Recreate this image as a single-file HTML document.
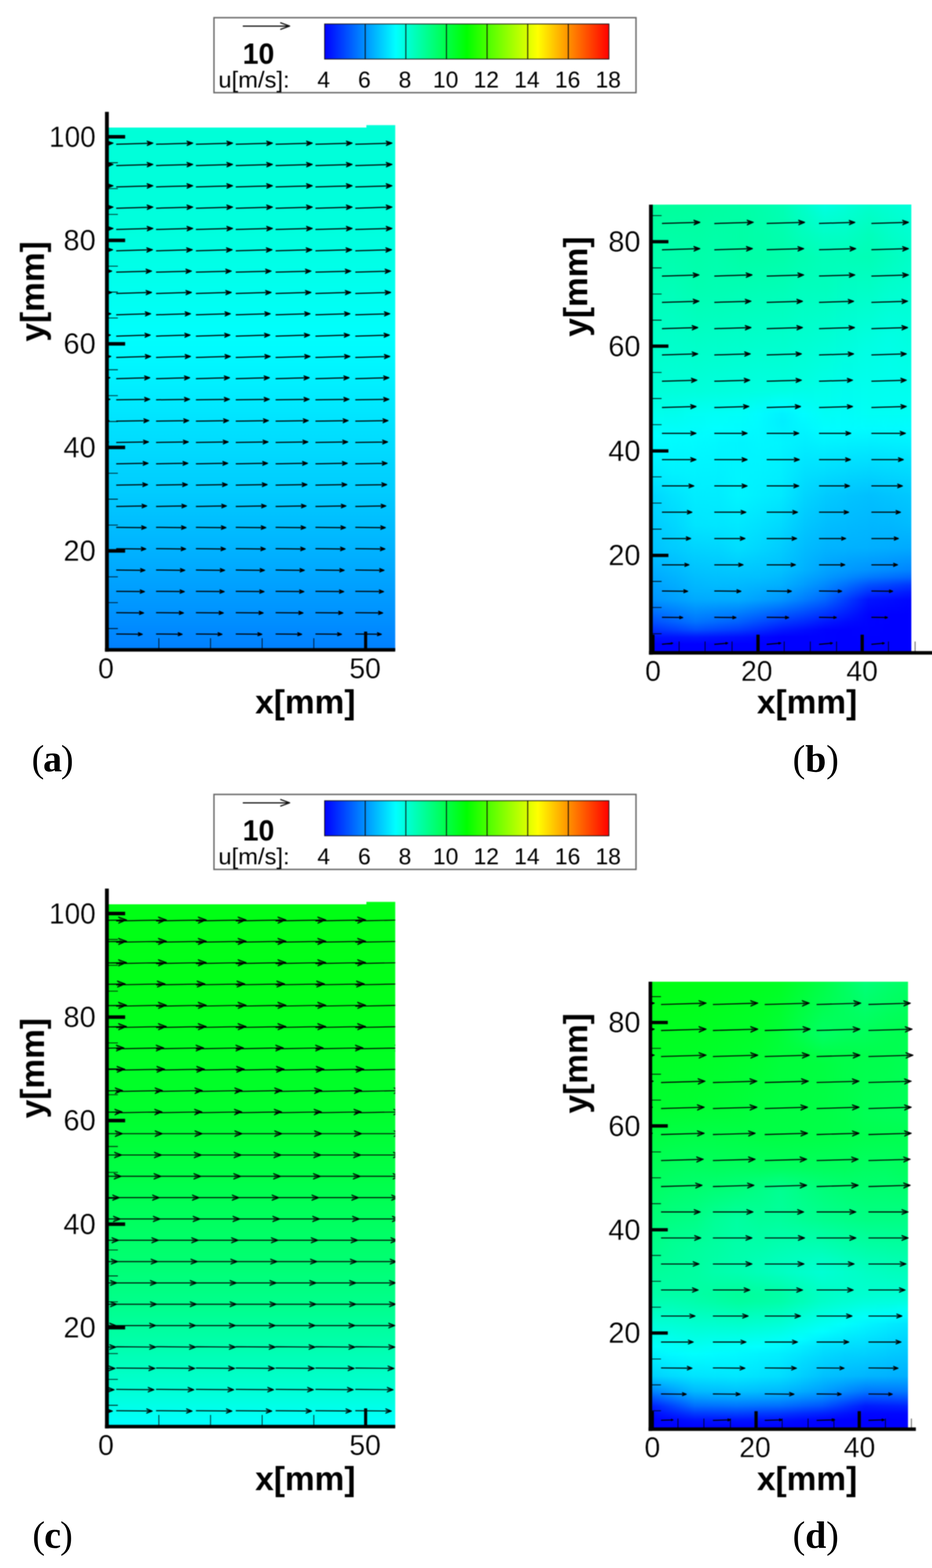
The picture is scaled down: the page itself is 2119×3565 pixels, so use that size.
<!DOCTYPE html>
<html lang="en"><head><meta charset="utf-8"><title>Velocity fields</title>
<style>html,body{margin:0;padding:0;background:#fff}body{width:2119px;height:3565px}svg{display:block}text{fill:#000}</style>
</head><body>
<svg width="2119" height="3565" viewBox="0 0 2119 3565" role="img" aria-label="Velocity vector fields with contours of u">
<defs>
<filter id="gsoft" filterUnits="userSpaceOnUse" x="-20" y="-20" width="2159" height="3605" color-interpolation-filters="sRGB"><feGaussianBlur stdDeviation="0.8"/></filter>
<filter id="soft" x="-2%" y="-2%" width="104%" height="104%" color-interpolation-filters="sRGB"><feGaussianBlur stdDeviation="0.55"/></filter>
<linearGradient id="cb0" x1="0" y1="0" x2="1" y2="0"><stop offset="0" stop-color="#0000ff"/><stop offset="0.25" stop-color="#00ffff"/><stop offset="0.5" stop-color="#00ff00"/><stop offset="0.75" stop-color="#ffff00"/><stop offset="1" stop-color="#ff0000"/></linearGradient>
<linearGradient id="cb1" x1="0" y1="0" x2="1" y2="0"><stop offset="0" stop-color="#0000ff"/><stop offset="0.25" stop-color="#00ffff"/><stop offset="0.5" stop-color="#00ff00"/><stop offset="0.75" stop-color="#ffff00"/><stop offset="1" stop-color="#ff0000"/></linearGradient>
<linearGradient id="gt0" gradientUnits="userSpaceOnUse" x1="0" y1="290" x2="0" y2="1473.5"><stop offset="0" stop-color="#00ffd8"/><stop offset="0.025" stop-color="#00ffd9"/><stop offset="0.05" stop-color="#00ffda"/><stop offset="0.075" stop-color="#00ffdb"/><stop offset="0.1" stop-color="#00ffdb"/><stop offset="0.125" stop-color="#00ffdc"/><stop offset="0.15" stop-color="#00ffdd"/><stop offset="0.175" stop-color="#00ffdd"/><stop offset="0.2" stop-color="#00ffde"/><stop offset="0.225" stop-color="#00ffe2"/><stop offset="0.25" stop-color="#00ffe6"/><stop offset="0.275" stop-color="#00ffea"/><stop offset="0.3" stop-color="#00ffee"/><stop offset="0.325" stop-color="#00fff2"/><stop offset="0.35" stop-color="#00fff6"/><stop offset="0.375" stop-color="#00fffa"/><stop offset="0.4" stop-color="#00fffe"/><stop offset="0.425" stop-color="#00fcff"/><stop offset="0.45" stop-color="#00f7ff"/><stop offset="0.475" stop-color="#00f3ff"/><stop offset="0.5" stop-color="#00eeff"/><stop offset="0.525" stop-color="#00eaff"/><stop offset="0.55" stop-color="#00e6ff"/><stop offset="0.575" stop-color="#00e1ff"/><stop offset="0.6" stop-color="#00ddff"/><stop offset="0.625" stop-color="#00d9ff"/><stop offset="0.65" stop-color="#00d4ff"/><stop offset="0.675" stop-color="#00d0ff"/><stop offset="0.7" stop-color="#00ccff"/><stop offset="0.725" stop-color="#00c6ff"/><stop offset="0.75" stop-color="#00c0ff"/><stop offset="0.775" stop-color="#00bbff"/><stop offset="0.8" stop-color="#00b5ff"/><stop offset="0.825" stop-color="#00afff"/><stop offset="0.85" stop-color="#00a9ff"/><stop offset="0.875" stop-color="#00a2ff"/><stop offset="0.9" stop-color="#009bff"/><stop offset="0.925" stop-color="#0095ff"/><stop offset="0.95" stop-color="#008eff"/><stop offset="0.975" stop-color="#0087ff"/><stop offset="1" stop-color="#0080ff"/></linearGradient>
<clipPath id="clipt0"><rect x="246.4" y="280" width="652.2" height="1201.5"/></clipPath>
<linearGradient id="gt1" gradientUnits="userSpaceOnUse" x1="0" y1="2056" x2="0" y2="3239.5"><stop offset="0" stop-color="#00ff14"/><stop offset="0.025" stop-color="#00ff15"/><stop offset="0.05" stop-color="#00ff15"/><stop offset="0.075" stop-color="#00ff16"/><stop offset="0.1" stop-color="#00ff17"/><stop offset="0.125" stop-color="#00ff17"/><stop offset="0.15" stop-color="#00ff18"/><stop offset="0.175" stop-color="#00ff19"/><stop offset="0.2" stop-color="#00ff1a"/><stop offset="0.225" stop-color="#00ff1c"/><stop offset="0.25" stop-color="#00ff1f"/><stop offset="0.275" stop-color="#00ff21"/><stop offset="0.3" stop-color="#00ff23"/><stop offset="0.325" stop-color="#00ff26"/><stop offset="0.35" stop-color="#00ff28"/><stop offset="0.375" stop-color="#00ff2b"/><stop offset="0.4" stop-color="#00ff2d"/><stop offset="0.425" stop-color="#00ff32"/><stop offset="0.45" stop-color="#00ff37"/><stop offset="0.475" stop-color="#00ff3d"/><stop offset="0.5" stop-color="#00ff42"/><stop offset="0.525" stop-color="#00ff47"/><stop offset="0.55" stop-color="#00ff4e"/><stop offset="0.575" stop-color="#00ff55"/><stop offset="0.6" stop-color="#00ff5c"/><stop offset="0.625" stop-color="#00ff63"/><stop offset="0.65" stop-color="#00ff69"/><stop offset="0.675" stop-color="#00ff6f"/><stop offset="0.7" stop-color="#00ff76"/><stop offset="0.725" stop-color="#00ff7e"/><stop offset="0.75" stop-color="#00ff86"/><stop offset="0.775" stop-color="#00ff8e"/><stop offset="0.8" stop-color="#00ff99"/><stop offset="0.825" stop-color="#00ffa3"/><stop offset="0.85" stop-color="#00ffae"/><stop offset="0.875" stop-color="#00ffba"/><stop offset="0.9" stop-color="#00ffc5"/><stop offset="0.925" stop-color="#00ffd1"/><stop offset="0.95" stop-color="#00ffdf"/><stop offset="0.975" stop-color="#00ffef"/><stop offset="1" stop-color="#00ffff"/></linearGradient>
<clipPath id="clipt1"><rect x="246.4" y="2046" width="652.2" height="1201.5"/></clipPath>
<linearGradient id="f0_0" gradientUnits="userSpaceOnUse" x1="0" y1="465.3" x2="0" y2="1482.3"><stop offset="0" stop-color="#00ff9b"/><stop offset="0.417" stop-color="#00ffd9"/><stop offset="0.517" stop-color="#00ffff"/><stop offset="0.6" stop-color="#00ecff"/><stop offset="0.65" stop-color="#00d7ff"/><stop offset="0.767" stop-color="#00c4ff"/><stop offset="0.883" stop-color="#0095ff"/><stop offset="0.933" stop-color="#0050ff"/><stop offset="0.95" stop-color="#0033ff"/><stop offset="0.967" stop-color="#0010ff"/><stop offset="0.983" stop-color="#0000ff"/><stop offset="1" stop-color="#0000ff"/></linearGradient>
<linearGradient id="f0_1" gradientUnits="userSpaceOnUse" x1="0" y1="465.3" x2="0" y2="1482.3"><stop offset="0" stop-color="#00ff9c"/><stop offset="0.417" stop-color="#00ffdb"/><stop offset="0.517" stop-color="#00feff"/><stop offset="0.6" stop-color="#00f2ff"/><stop offset="0.65" stop-color="#00e3ff"/><stop offset="0.767" stop-color="#00ccff"/><stop offset="0.883" stop-color="#009fff"/><stop offset="0.933" stop-color="#0062ff"/><stop offset="0.95" stop-color="#0042ff"/><stop offset="0.967" stop-color="#0013ff"/><stop offset="0.983" stop-color="#0000ff"/><stop offset="1" stop-color="#0000ff"/></linearGradient>
<linearGradient id="m0_1g" gradientUnits="userSpaceOnUse" x1="1483.8" y1="0" x2="1532.82" y2="0"><stop offset="0" stop-color="#fff" stop-opacity="0"/><stop offset="1" stop-color="#fff" stop-opacity="1"/></linearGradient><mask id="m0_1" maskUnits="userSpaceOnUse" x="1483.8" y="465.3" width="588.2" height="1017"><rect x="1483.8" y="465.3" width="588.2" height="1017" fill="url(#m0_1g)"/></mask>
<linearGradient id="f0_2" gradientUnits="userSpaceOnUse" x1="0" y1="465.3" x2="0" y2="1482.3"><stop offset="0" stop-color="#00ff9e"/><stop offset="0.183" stop-color="#00ffb1"/><stop offset="0.417" stop-color="#00ffdc"/><stop offset="0.467" stop-color="#00fff4"/><stop offset="0.517" stop-color="#00fdff"/><stop offset="0.717" stop-color="#00e5ff"/><stop offset="0.867" stop-color="#00b2ff"/><stop offset="0.883" stop-color="#00aaff"/><stop offset="0.933" stop-color="#0074ff"/><stop offset="0.95" stop-color="#0052ff"/><stop offset="0.967" stop-color="#0017ff"/><stop offset="0.983" stop-color="#0000ff"/><stop offset="1" stop-color="#0000ff"/></linearGradient>
<linearGradient id="m0_2g" gradientUnits="userSpaceOnUse" x1="1532.82" y1="0" x2="1581.83" y2="0"><stop offset="0" stop-color="#fff" stop-opacity="0"/><stop offset="1" stop-color="#fff" stop-opacity="1"/></linearGradient><mask id="m0_2" maskUnits="userSpaceOnUse" x="1532.82" y="465.3" width="539.18" height="1017"><rect x="1532.82" y="465.3" width="539.18" height="1017" fill="url(#m0_2g)"/></mask>
<linearGradient id="f0_3" gradientUnits="userSpaceOnUse" x1="0" y1="465.3" x2="0" y2="1482.3"><stop offset="0" stop-color="#00ffa1"/><stop offset="0.2" stop-color="#00ffb5"/><stop offset="0.417" stop-color="#00ffde"/><stop offset="0.467" stop-color="#00fff6"/><stop offset="0.5" stop-color="#00ffff"/><stop offset="0.533" stop-color="#00f8ff"/><stop offset="0.717" stop-color="#00e6ff"/><stop offset="0.85" stop-color="#00bbff"/><stop offset="0.883" stop-color="#00abff"/><stop offset="0.933" stop-color="#006aff"/><stop offset="0.95" stop-color="#0048ff"/><stop offset="0.967" stop-color="#0013ff"/><stop offset="0.983" stop-color="#0000ff"/><stop offset="1" stop-color="#0000ff"/></linearGradient>
<linearGradient id="m0_3g" gradientUnits="userSpaceOnUse" x1="1581.83" y1="0" x2="1630.85" y2="0"><stop offset="0" stop-color="#fff" stop-opacity="0"/><stop offset="1" stop-color="#fff" stop-opacity="1"/></linearGradient><mask id="m0_3" maskUnits="userSpaceOnUse" x="1581.83" y="465.3" width="490.17" height="1017"><rect x="1581.83" y="465.3" width="490.17" height="1017" fill="url(#m0_3g)"/></mask>
<linearGradient id="f0_4" gradientUnits="userSpaceOnUse" x1="0" y1="465.3" x2="0" y2="1482.3"><stop offset="0" stop-color="#00ffa5"/><stop offset="0.117" stop-color="#00ffa7"/><stop offset="0.417" stop-color="#00ffe0"/><stop offset="0.467" stop-color="#00fff8"/><stop offset="0.5" stop-color="#00fdff"/><stop offset="0.533" stop-color="#00f5ff"/><stop offset="0.65" stop-color="#00f5ff"/><stop offset="0.767" stop-color="#00deff"/><stop offset="0.883" stop-color="#00abff"/><stop offset="0.933" stop-color="#0060ff"/><stop offset="0.95" stop-color="#003eff"/><stop offset="0.967" stop-color="#000fff"/><stop offset="0.983" stop-color="#0000ff"/><stop offset="1" stop-color="#0000ff"/></linearGradient>
<linearGradient id="m0_4g" gradientUnits="userSpaceOnUse" x1="1630.85" y1="0" x2="1679.87" y2="0"><stop offset="0" stop-color="#fff" stop-opacity="0"/><stop offset="1" stop-color="#fff" stop-opacity="1"/></linearGradient><mask id="m0_4" maskUnits="userSpaceOnUse" x="1630.85" y="465.3" width="441.15" height="1017"><rect x="1630.85" y="465.3" width="441.15" height="1017" fill="url(#m0_4g)"/></mask>
<linearGradient id="f0_5" gradientUnits="userSpaceOnUse" x1="0" y1="465.3" x2="0" y2="1482.3"><stop offset="0" stop-color="#00ffac"/><stop offset="0.117" stop-color="#00ffa8"/><stop offset="0.417" stop-color="#00ffe2"/><stop offset="0.467" stop-color="#00fcff"/><stop offset="0.65" stop-color="#00efff"/><stop offset="0.767" stop-color="#00d6ff"/><stop offset="0.833" stop-color="#00bfff"/><stop offset="0.883" stop-color="#00a0ff"/><stop offset="0.933" stop-color="#004cff"/><stop offset="0.95" stop-color="#002cff"/><stop offset="0.967" stop-color="#0007ff"/><stop offset="0.983" stop-color="#0000ff"/><stop offset="1" stop-color="#0000ff"/></linearGradient>
<linearGradient id="m0_5g" gradientUnits="userSpaceOnUse" x1="1679.87" y1="0" x2="1728.88" y2="0"><stop offset="0" stop-color="#fff" stop-opacity="0"/><stop offset="1" stop-color="#fff" stop-opacity="1"/></linearGradient><mask id="m0_5" maskUnits="userSpaceOnUse" x="1679.87" y="465.3" width="392.13" height="1017"><rect x="1679.87" y="465.3" width="392.13" height="1017" fill="url(#m0_5g)"/></mask>
<linearGradient id="f0_6" gradientUnits="userSpaceOnUse" x1="0" y1="465.3" x2="0" y2="1482.3"><stop offset="0" stop-color="#00ffb4"/><stop offset="0.117" stop-color="#00ffaa"/><stop offset="0.4" stop-color="#00ffde"/><stop offset="0.417" stop-color="#00ffe4"/><stop offset="0.45" stop-color="#00ffff"/><stop offset="0.467" stop-color="#00f2ff"/><stop offset="0.483" stop-color="#00efff"/><stop offset="0.533" stop-color="#00f5ff"/><stop offset="0.65" stop-color="#00e9ff"/><stop offset="0.817" stop-color="#00c0ff"/><stop offset="0.85" stop-color="#00afff"/><stop offset="0.883" stop-color="#0095ff"/><stop offset="0.95" stop-color="#0019ff"/><stop offset="0.967" stop-color="#0000ff"/><stop offset="1" stop-color="#0000ff"/></linearGradient>
<linearGradient id="m0_6g" gradientUnits="userSpaceOnUse" x1="1728.88" y1="0" x2="1777.9" y2="0"><stop offset="0" stop-color="#fff" stop-opacity="0"/><stop offset="1" stop-color="#fff" stop-opacity="1"/></linearGradient><mask id="m0_6" maskUnits="userSpaceOnUse" x="1728.88" y="465.3" width="343.12" height="1017"><rect x="1728.88" y="465.3" width="343.12" height="1017" fill="url(#m0_6g)"/></mask>
<linearGradient id="f0_7" gradientUnits="userSpaceOnUse" x1="0" y1="465.3" x2="0" y2="1482.3"><stop offset="0" stop-color="#00ffca"/><stop offset="0.117" stop-color="#00ffb2"/><stop offset="0.4" stop-color="#00ffe1"/><stop offset="0.467" stop-color="#00fdff"/><stop offset="0.817" stop-color="#00b2ff"/><stop offset="0.85" stop-color="#009dff"/><stop offset="0.883" stop-color="#007eff"/><stop offset="0.95" stop-color="#000eff"/><stop offset="0.967" stop-color="#0000ff"/><stop offset="1" stop-color="#0000ff"/></linearGradient>
<linearGradient id="m0_7g" gradientUnits="userSpaceOnUse" x1="1777.9" y1="0" x2="1826.92" y2="0"><stop offset="0" stop-color="#fff" stop-opacity="0"/><stop offset="1" stop-color="#fff" stop-opacity="1"/></linearGradient><mask id="m0_7" maskUnits="userSpaceOnUse" x="1777.9" y="465.3" width="294.1" height="1017"><rect x="1777.9" y="465.3" width="294.1" height="1017" fill="url(#m0_7g)"/></mask>
<linearGradient id="f0_8" gradientUnits="userSpaceOnUse" x1="0" y1="465.3" x2="0" y2="1482.3"><stop offset="0" stop-color="#00ffe1"/><stop offset="0.067" stop-color="#00ffc6"/><stop offset="0.117" stop-color="#00ffb9"/><stop offset="0.183" stop-color="#00ffbd"/><stop offset="0.45" stop-color="#00fff1"/><stop offset="0.5" stop-color="#00feff"/><stop offset="0.65" stop-color="#00cbff"/><stop offset="0.767" stop-color="#00b4ff"/><stop offset="0.817" stop-color="#00a3ff"/><stop offset="0.833" stop-color="#0099ff"/><stop offset="0.867" stop-color="#0079ff"/><stop offset="0.883" stop-color="#0066ff"/><stop offset="0.933" stop-color="#0018ff"/><stop offset="0.95" stop-color="#0003ff"/><stop offset="1" stop-color="#0000ff"/></linearGradient>
<linearGradient id="m0_8g" gradientUnits="userSpaceOnUse" x1="1826.92" y1="0" x2="1875.93" y2="0"><stop offset="0" stop-color="#fff" stop-opacity="0"/><stop offset="1" stop-color="#fff" stop-opacity="1"/></linearGradient><mask id="m0_8" maskUnits="userSpaceOnUse" x="1826.92" y="465.3" width="245.08" height="1017"><rect x="1826.92" y="465.3" width="245.08" height="1017" fill="url(#m0_8g)"/></mask>
<linearGradient id="f0_9" gradientUnits="userSpaceOnUse" x1="0" y1="465.3" x2="0" y2="1482.3"><stop offset="0" stop-color="#00ffd7"/><stop offset="0.117" stop-color="#00ffb8"/><stop offset="0.5" stop-color="#00fdff"/><stop offset="0.65" stop-color="#00c5ff"/><stop offset="0.767" stop-color="#00b2ff"/><stop offset="0.817" stop-color="#009aff"/><stop offset="0.833" stop-color="#008aff"/><stop offset="0.883" stop-color="#003dff"/><stop offset="0.933" stop-color="#000bff"/><stop offset="0.95" stop-color="#0000ff"/><stop offset="1" stop-color="#0000ff"/></linearGradient>
<linearGradient id="m0_9g" gradientUnits="userSpaceOnUse" x1="1875.93" y1="0" x2="1924.95" y2="0"><stop offset="0" stop-color="#fff" stop-opacity="0"/><stop offset="1" stop-color="#fff" stop-opacity="1"/></linearGradient><mask id="m0_9" maskUnits="userSpaceOnUse" x="1875.93" y="465.3" width="196.07" height="1017"><rect x="1875.93" y="465.3" width="196.07" height="1017" fill="url(#m0_9g)"/></mask>
<linearGradient id="f0_10" gradientUnits="userSpaceOnUse" x1="0" y1="465.3" x2="0" y2="1482.3"><stop offset="0" stop-color="#00ffcd"/><stop offset="0.067" stop-color="#00ffbb"/><stop offset="0.117" stop-color="#00ffb6"/><stop offset="0.317" stop-color="#00ffe3"/><stop offset="0.467" stop-color="#00fff5"/><stop offset="0.5" stop-color="#00fcff"/><stop offset="0.65" stop-color="#00c0ff"/><stop offset="0.767" stop-color="#00b0ff"/><stop offset="0.817" stop-color="#0092ff"/><stop offset="0.833" stop-color="#007aff"/><stop offset="0.85" stop-color="#0052ff"/><stop offset="0.883" stop-color="#0014ff"/><stop offset="0.917" stop-color="#0004ff"/><stop offset="1" stop-color="#0000ff"/></linearGradient>
<linearGradient id="m0_10g" gradientUnits="userSpaceOnUse" x1="1924.95" y1="0" x2="1973.97" y2="0"><stop offset="0" stop-color="#fff" stop-opacity="0"/><stop offset="1" stop-color="#fff" stop-opacity="1"/></linearGradient><mask id="m0_10" maskUnits="userSpaceOnUse" x="1924.95" y="465.3" width="147.05" height="1017"><rect x="1924.95" y="465.3" width="147.05" height="1017" fill="url(#m0_10g)"/></mask>
<linearGradient id="f0_11" gradientUnits="userSpaceOnUse" x1="0" y1="465.3" x2="0" y2="1482.3"><stop offset="0" stop-color="#00ffd3"/><stop offset="0.117" stop-color="#00ffbf"/><stop offset="0.3" stop-color="#00ffe5"/><stop offset="0.467" stop-color="#00fff5"/><stop offset="0.5" stop-color="#00fcff"/><stop offset="0.65" stop-color="#00c4ff"/><stop offset="0.767" stop-color="#00adff"/><stop offset="0.817" stop-color="#008bff"/><stop offset="0.833" stop-color="#0070ff"/><stop offset="0.85" stop-color="#0045ff"/><stop offset="0.867" stop-color="#0025ff"/><stop offset="0.883" stop-color="#000dff"/><stop offset="0.917" stop-color="#0001ff"/><stop offset="1" stop-color="#0000ff"/></linearGradient>
<linearGradient id="m0_11g" gradientUnits="userSpaceOnUse" x1="1973.97" y1="0" x2="2022.98" y2="0"><stop offset="0" stop-color="#fff" stop-opacity="0"/><stop offset="1" stop-color="#fff" stop-opacity="1"/></linearGradient><mask id="m0_11" maskUnits="userSpaceOnUse" x="1973.97" y="465.3" width="98.03" height="1017"><rect x="1973.97" y="465.3" width="98.03" height="1017" fill="url(#m0_11g)"/></mask>
<linearGradient id="f0_12" gradientUnits="userSpaceOnUse" x1="0" y1="465.3" x2="0" y2="1482.3"><stop offset="0" stop-color="#00ffda"/><stop offset="0.117" stop-color="#00ffc8"/><stop offset="0.467" stop-color="#00fff5"/><stop offset="0.5" stop-color="#00fcff"/><stop offset="0.65" stop-color="#00c8ff"/><stop offset="0.717" stop-color="#00bbff"/><stop offset="0.767" stop-color="#00aaff"/><stop offset="0.817" stop-color="#0084ff"/><stop offset="0.833" stop-color="#0067ff"/><stop offset="0.85" stop-color="#0037ff"/><stop offset="0.867" stop-color="#0019ff"/><stop offset="0.883" stop-color="#0006ff"/><stop offset="0.917" stop-color="#0000ff"/><stop offset="1" stop-color="#0000ff"/></linearGradient>
<linearGradient id="m0_12g" gradientUnits="userSpaceOnUse" x1="2022.98" y1="0" x2="2072" y2="0"><stop offset="0" stop-color="#fff" stop-opacity="0"/><stop offset="1" stop-color="#fff" stop-opacity="1"/></linearGradient><mask id="m0_12" maskUnits="userSpaceOnUse" x="2022.98" y="465.3" width="49.02" height="1017"><rect x="2022.98" y="465.3" width="49.02" height="1017" fill="url(#m0_12g)"/></mask>
<clipPath id="clipf0"><rect x="1483.2" y="455.3" width="588.8" height="1027"/></clipPath>
<linearGradient id="f1_0" gradientUnits="userSpaceOnUse" x1="0" y1="2232" x2="0" y2="3247.4"><stop offset="0" stop-color="#00ff14"/><stop offset="0.283" stop-color="#00ff30"/><stop offset="0.7" stop-color="#00ffa8"/><stop offset="0.717" stop-color="#00ffb1"/><stop offset="0.817" stop-color="#00fffc"/><stop offset="0.883" stop-color="#00d1ff"/><stop offset="0.917" stop-color="#0084ff"/><stop offset="0.95" stop-color="#0021ff"/><stop offset="0.967" stop-color="#000bff"/><stop offset="0.983" stop-color="#0000ff"/><stop offset="1" stop-color="#0000ff"/></linearGradient>
<linearGradient id="f1_1" gradientUnits="userSpaceOnUse" x1="0" y1="2232" x2="0" y2="3247.4"><stop offset="0" stop-color="#00ff15"/><stop offset="0.283" stop-color="#00ff31"/><stop offset="0.583" stop-color="#00ff92"/><stop offset="0.7" stop-color="#00ffa6"/><stop offset="0.817" stop-color="#00fff8"/><stop offset="0.833" stop-color="#00fbff"/><stop offset="0.883" stop-color="#00dbff"/><stop offset="0.917" stop-color="#009fff"/><stop offset="0.933" stop-color="#0075ff"/><stop offset="0.95" stop-color="#0047ff"/><stop offset="0.967" stop-color="#0022ff"/><stop offset="0.983" stop-color="#0006ff"/><stop offset="1" stop-color="#0000ff"/></linearGradient>
<linearGradient id="m1_1g" gradientUnits="userSpaceOnUse" x1="1482.4" y1="0" x2="1530.9" y2="0"><stop offset="0" stop-color="#fff" stop-opacity="0"/><stop offset="1" stop-color="#fff" stop-opacity="1"/></linearGradient><mask id="m1_1" maskUnits="userSpaceOnUse" x="1482.4" y="2232" width="582" height="1015.4"><rect x="1482.4" y="2232" width="582" height="1015.4" fill="url(#m1_1g)"/></mask>
<linearGradient id="f1_2" gradientUnits="userSpaceOnUse" x1="0" y1="2232" x2="0" y2="3247.4"><stop offset="0" stop-color="#00ff16"/><stop offset="0.283" stop-color="#00ff32"/><stop offset="0.6" stop-color="#00ff9d"/><stop offset="0.7" stop-color="#00ffa5"/><stop offset="0.717" stop-color="#00ffac"/><stop offset="0.833" stop-color="#00fffe"/><stop offset="0.883" stop-color="#00e4ff"/><stop offset="0.917" stop-color="#00baff"/><stop offset="0.933" stop-color="#0097ff"/><stop offset="0.95" stop-color="#006eff"/><stop offset="0.967" stop-color="#003aff"/><stop offset="0.983" stop-color="#000fff"/><stop offset="1" stop-color="#0000ff"/></linearGradient>
<linearGradient id="m1_2g" gradientUnits="userSpaceOnUse" x1="1530.9" y1="0" x2="1579.4" y2="0"><stop offset="0" stop-color="#fff" stop-opacity="0"/><stop offset="1" stop-color="#fff" stop-opacity="1"/></linearGradient><mask id="m1_2" maskUnits="userSpaceOnUse" x="1530.9" y="2232" width="533.5" height="1015.4"><rect x="1530.9" y="2232" width="533.5" height="1015.4" fill="url(#m1_2g)"/></mask>
<linearGradient id="f1_3" gradientUnits="userSpaceOnUse" x1="0" y1="2232" x2="0" y2="3247.4"><stop offset="0" stop-color="#00ff19"/><stop offset="0.283" stop-color="#00ff35"/><stop offset="0.417" stop-color="#00ff5d"/><stop offset="0.533" stop-color="#00ff97"/><stop offset="0.65" stop-color="#00ffab"/><stop offset="0.7" stop-color="#00ff9f"/><stop offset="0.717" stop-color="#00ffa6"/><stop offset="0.817" stop-color="#00fff7"/><stop offset="0.833" stop-color="#00fcff"/><stop offset="0.883" stop-color="#00e6ff"/><stop offset="0.917" stop-color="#00beff"/><stop offset="0.933" stop-color="#009cff"/><stop offset="0.95" stop-color="#0071ff"/><stop offset="0.967" stop-color="#003dff"/><stop offset="0.983" stop-color="#0010ff"/><stop offset="1" stop-color="#0000ff"/></linearGradient>
<linearGradient id="m1_3g" gradientUnits="userSpaceOnUse" x1="1579.4" y1="0" x2="1627.9" y2="0"><stop offset="0" stop-color="#fff" stop-opacity="0"/><stop offset="1" stop-color="#fff" stop-opacity="1"/></linearGradient><mask id="m1_3" maskUnits="userSpaceOnUse" x="1579.4" y="2232" width="485" height="1015.4"><rect x="1579.4" y="2232" width="485" height="1015.4" fill="url(#m1_3g)"/></mask>
<linearGradient id="f1_4" gradientUnits="userSpaceOnUse" x1="0" y1="2232" x2="0" y2="3247.4"><stop offset="0" stop-color="#00ff1c"/><stop offset="0.3" stop-color="#00ff3b"/><stop offset="0.4" stop-color="#00ff56"/><stop offset="0.533" stop-color="#00ffa1"/><stop offset="0.65" stop-color="#00ffb1"/><stop offset="0.7" stop-color="#00ff99"/><stop offset="0.717" stop-color="#00ff9f"/><stop offset="0.817" stop-color="#00fffa"/><stop offset="0.833" stop-color="#00f9ff"/><stop offset="0.883" stop-color="#00e8ff"/><stop offset="0.917" stop-color="#00c2ff"/><stop offset="0.933" stop-color="#009fff"/><stop offset="0.95" stop-color="#0075ff"/><stop offset="0.967" stop-color="#0040ff"/><stop offset="0.983" stop-color="#0011ff"/><stop offset="1" stop-color="#0000ff"/></linearGradient>
<linearGradient id="m1_4g" gradientUnits="userSpaceOnUse" x1="1627.9" y1="0" x2="1676.4" y2="0"><stop offset="0" stop-color="#fff" stop-opacity="0"/><stop offset="1" stop-color="#fff" stop-opacity="1"/></linearGradient><mask id="m1_4" maskUnits="userSpaceOnUse" x="1627.9" y="2232" width="436.5" height="1015.4"><rect x="1627.9" y="2232" width="436.5" height="1015.4" fill="url(#m1_4g)"/></mask>
<linearGradient id="f1_5" gradientUnits="userSpaceOnUse" x1="0" y1="2232" x2="0" y2="3247.4"><stop offset="0" stop-color="#00ff1f"/><stop offset="0.35" stop-color="#00ff46"/><stop offset="0.417" stop-color="#00ff5e"/><stop offset="0.467" stop-color="#00ff86"/><stop offset="0.633" stop-color="#00ffb7"/><stop offset="0.65" stop-color="#00ffb9"/><stop offset="0.7" stop-color="#00ff9f"/><stop offset="0.717" stop-color="#00ffa4"/><stop offset="0.817" stop-color="#00ffff"/><stop offset="0.833" stop-color="#00f4ff"/><stop offset="0.883" stop-color="#00e3ff"/><stop offset="0.917" stop-color="#00beff"/><stop offset="0.933" stop-color="#009cff"/><stop offset="0.95" stop-color="#0071ff"/><stop offset="0.967" stop-color="#003bff"/><stop offset="0.983" stop-color="#000fff"/><stop offset="1" stop-color="#0000ff"/></linearGradient>
<linearGradient id="m1_5g" gradientUnits="userSpaceOnUse" x1="1676.4" y1="0" x2="1724.9" y2="0"><stop offset="0" stop-color="#fff" stop-opacity="0"/><stop offset="1" stop-color="#fff" stop-opacity="1"/></linearGradient><mask id="m1_5" maskUnits="userSpaceOnUse" x="1676.4" y="2232" width="388" height="1015.4"><rect x="1676.4" y="2232" width="388" height="1015.4" fill="url(#m1_5g)"/></mask>
<linearGradient id="f1_6" gradientUnits="userSpaceOnUse" x1="0" y1="2232" x2="0" y2="3247.4"><stop offset="0" stop-color="#00ff23"/><stop offset="0.117" stop-color="#00ff37"/><stop offset="0.35" stop-color="#00ff46"/><stop offset="0.4" stop-color="#00ff56"/><stop offset="0.417" stop-color="#00ff5f"/><stop offset="0.467" stop-color="#00ff92"/><stop offset="0.533" stop-color="#00ff9c"/><stop offset="0.633" stop-color="#00ffbf"/><stop offset="0.65" stop-color="#00ffc2"/><stop offset="0.7" stop-color="#00ffa4"/><stop offset="0.717" stop-color="#00ffa9"/><stop offset="0.8" stop-color="#00fff5"/><stop offset="0.817" stop-color="#00faff"/><stop offset="0.833" stop-color="#00efff"/><stop offset="0.883" stop-color="#00deff"/><stop offset="0.917" stop-color="#00baff"/><stop offset="0.933" stop-color="#0098ff"/><stop offset="0.95" stop-color="#006eff"/><stop offset="0.967" stop-color="#0037ff"/><stop offset="0.983" stop-color="#000eff"/><stop offset="1" stop-color="#0000ff"/></linearGradient>
<linearGradient id="m1_6g" gradientUnits="userSpaceOnUse" x1="1724.9" y1="0" x2="1773.4" y2="0"><stop offset="0" stop-color="#fff" stop-opacity="0"/><stop offset="1" stop-color="#fff" stop-opacity="1"/></linearGradient><mask id="m1_6" maskUnits="userSpaceOnUse" x="1724.9" y="2232" width="339.5" height="1015.4"><rect x="1724.9" y="2232" width="339.5" height="1015.4" fill="url(#m1_6g)"/></mask>
<linearGradient id="f1_7" gradientUnits="userSpaceOnUse" x1="0" y1="2232" x2="0" y2="3247.4"><stop offset="0" stop-color="#00ff34"/><stop offset="0.117" stop-color="#00ff4d"/><stop offset="0.167" stop-color="#00ff3c"/><stop offset="0.35" stop-color="#00ff47"/><stop offset="0.4" stop-color="#00ff56"/><stop offset="0.417" stop-color="#00ff5e"/><stop offset="0.467" stop-color="#00ff86"/><stop offset="0.533" stop-color="#00ff95"/><stop offset="0.6" stop-color="#00ffb8"/><stop offset="0.65" stop-color="#00ffcb"/><stop offset="0.7" stop-color="#00ffb5"/><stop offset="0.717" stop-color="#00ffb9"/><stop offset="0.783" stop-color="#00fff3"/><stop offset="0.8" stop-color="#00fdff"/><stop offset="0.817" stop-color="#00eeff"/><stop offset="0.85" stop-color="#00dcff"/><stop offset="0.883" stop-color="#00d0ff"/><stop offset="0.917" stop-color="#00adff"/><stop offset="0.933" stop-color="#008bff"/><stop offset="0.95" stop-color="#0061ff"/><stop offset="0.967" stop-color="#002cff"/><stop offset="0.983" stop-color="#0007ff"/><stop offset="1" stop-color="#0000ff"/></linearGradient>
<linearGradient id="m1_7g" gradientUnits="userSpaceOnUse" x1="1773.4" y1="0" x2="1821.9" y2="0"><stop offset="0" stop-color="#fff" stop-opacity="0"/><stop offset="1" stop-color="#fff" stop-opacity="1"/></linearGradient><mask id="m1_7" maskUnits="userSpaceOnUse" x="1773.4" y="2232" width="291" height="1015.4"><rect x="1773.4" y="2232" width="291" height="1015.4" fill="url(#m1_7g)"/></mask>
<linearGradient id="f1_8" gradientUnits="userSpaceOnUse" x1="0" y1="2232" x2="0" y2="3247.4"><stop offset="0" stop-color="#00ff46"/><stop offset="0.067" stop-color="#00ff53"/><stop offset="0.117" stop-color="#00ff64"/><stop offset="0.167" stop-color="#00ff46"/><stop offset="0.183" stop-color="#00ff41"/><stop offset="0.35" stop-color="#00ff48"/><stop offset="0.417" stop-color="#00ff5d"/><stop offset="0.467" stop-color="#00ff7b"/><stop offset="0.533" stop-color="#00ff8e"/><stop offset="0.633" stop-color="#00ffcc"/><stop offset="0.65" stop-color="#00ffd3"/><stop offset="0.7" stop-color="#00ffc5"/><stop offset="0.717" stop-color="#00ffca"/><stop offset="0.783" stop-color="#00ffff"/><stop offset="0.817" stop-color="#00e2ff"/><stop offset="0.883" stop-color="#00c1ff"/><stop offset="0.917" stop-color="#00a0ff"/><stop offset="0.933" stop-color="#007fff"/><stop offset="0.95" stop-color="#0055ff"/><stop offset="0.967" stop-color="#0022ff"/><stop offset="0.983" stop-color="#0001ff"/><stop offset="1" stop-color="#0000ff"/></linearGradient>
<linearGradient id="m1_8g" gradientUnits="userSpaceOnUse" x1="1821.9" y1="0" x2="1870.4" y2="0"><stop offset="0" stop-color="#fff" stop-opacity="0"/><stop offset="1" stop-color="#fff" stop-opacity="1"/></linearGradient><mask id="m1_8" maskUnits="userSpaceOnUse" x="1821.9" y="2232" width="242.5" height="1015.4"><rect x="1821.9" y="2232" width="242.5" height="1015.4" fill="url(#m1_8g)"/></mask>
<linearGradient id="f1_9" gradientUnits="userSpaceOnUse" x1="0" y1="2232" x2="0" y2="3247.4"><stop offset="0" stop-color="#00ff5f"/><stop offset="0.117" stop-color="#00ff5c"/><stop offset="0.167" stop-color="#00ff49"/><stop offset="0.35" stop-color="#00ff4b"/><stop offset="0.417" stop-color="#00ff5c"/><stop offset="0.467" stop-color="#00ff74"/><stop offset="0.533" stop-color="#00ff89"/><stop offset="0.65" stop-color="#00ffcc"/><stop offset="0.7" stop-color="#00ffcb"/><stop offset="0.717" stop-color="#00ffd3"/><stop offset="0.767" stop-color="#00fffd"/><stop offset="0.833" stop-color="#00d3ff"/><stop offset="0.883" stop-color="#00bbff"/><stop offset="0.917" stop-color="#008cff"/><stop offset="0.933" stop-color="#0065ff"/><stop offset="0.95" stop-color="#0039ff"/><stop offset="0.967" stop-color="#0014ff"/><stop offset="0.983" stop-color="#0000ff"/><stop offset="1" stop-color="#0000ff"/></linearGradient>
<linearGradient id="m1_9g" gradientUnits="userSpaceOnUse" x1="1870.4" y1="0" x2="1918.9" y2="0"><stop offset="0" stop-color="#fff" stop-opacity="0"/><stop offset="1" stop-color="#fff" stop-opacity="1"/></linearGradient><mask id="m1_9" maskUnits="userSpaceOnUse" x="1870.4" y="2232" width="194" height="1015.4"><rect x="1870.4" y="2232" width="194" height="1015.4" fill="url(#m1_9g)"/></mask>
<linearGradient id="f1_10" gradientUnits="userSpaceOnUse" x1="0" y1="2232" x2="0" y2="3247.4"><stop offset="0" stop-color="#00ff78"/><stop offset="0.167" stop-color="#00ff4c"/><stop offset="0.3" stop-color="#00ff54"/><stop offset="0.35" stop-color="#00ff4e"/><stop offset="0.533" stop-color="#00ff84"/><stop offset="0.65" stop-color="#00ffc4"/><stop offset="0.7" stop-color="#00ffd0"/><stop offset="0.717" stop-color="#00ffdb"/><stop offset="0.75" stop-color="#00fffa"/><stop offset="0.767" stop-color="#00f5ff"/><stop offset="0.883" stop-color="#00b5ff"/><stop offset="0.917" stop-color="#0078ff"/><stop offset="0.95" stop-color="#001cff"/><stop offset="0.967" stop-color="#0006ff"/><stop offset="0.983" stop-color="#0000ff"/><stop offset="1" stop-color="#0000ff"/></linearGradient>
<linearGradient id="m1_10g" gradientUnits="userSpaceOnUse" x1="1918.9" y1="0" x2="1967.4" y2="0"><stop offset="0" stop-color="#fff" stop-opacity="0"/><stop offset="1" stop-color="#fff" stop-opacity="1"/></linearGradient><mask id="m1_10" maskUnits="userSpaceOnUse" x="1918.9" y="2232" width="145.5" height="1015.4"><rect x="1918.9" y="2232" width="145.5" height="1015.4" fill="url(#m1_10g)"/></mask>
<linearGradient id="f1_11" gradientUnits="userSpaceOnUse" x1="0" y1="2232" x2="0" y2="3247.4"><stop offset="0" stop-color="#00ff6e"/><stop offset="0.117" stop-color="#00ff52"/><stop offset="0.183" stop-color="#00ff4e"/><stop offset="0.3" stop-color="#00ff57"/><stop offset="0.35" stop-color="#00ff4f"/><stop offset="0.533" stop-color="#00ff84"/><stop offset="0.65" stop-color="#00ffbf"/><stop offset="0.7" stop-color="#00ffd2"/><stop offset="0.717" stop-color="#00ffde"/><stop offset="0.75" stop-color="#00fdff"/><stop offset="0.767" stop-color="#00ecff"/><stop offset="0.883" stop-color="#00b2ff"/><stop offset="0.917" stop-color="#0079ff"/><stop offset="0.95" stop-color="#0020ff"/><stop offset="0.967" stop-color="#0007ff"/><stop offset="0.983" stop-color="#0000ff"/><stop offset="1" stop-color="#0000ff"/></linearGradient>
<linearGradient id="m1_11g" gradientUnits="userSpaceOnUse" x1="1967.4" y1="0" x2="2015.9" y2="0"><stop offset="0" stop-color="#fff" stop-opacity="0"/><stop offset="1" stop-color="#fff" stop-opacity="1"/></linearGradient><mask id="m1_11" maskUnits="userSpaceOnUse" x="1967.4" y="2232" width="97" height="1015.4"><rect x="1967.4" y="2232" width="97" height="1015.4" fill="url(#m1_11g)"/></mask>
<linearGradient id="f1_12" gradientUnits="userSpaceOnUse" x1="0" y1="2232" x2="0" y2="3247.4"><stop offset="0" stop-color="#00ff64"/><stop offset="0.117" stop-color="#00ff50"/><stop offset="0.3" stop-color="#00ff59"/><stop offset="0.35" stop-color="#00ff50"/><stop offset="0.433" stop-color="#00ff61"/><stop offset="0.55" stop-color="#00ff8c"/><stop offset="0.7" stop-color="#00ffd3"/><stop offset="0.717" stop-color="#00ffe2"/><stop offset="0.733" stop-color="#00fff5"/><stop offset="0.75" stop-color="#00f6ff"/><stop offset="0.767" stop-color="#00e4ff"/><stop offset="0.883" stop-color="#00afff"/><stop offset="0.917" stop-color="#007bff"/><stop offset="0.933" stop-color="#0052ff"/><stop offset="0.95" stop-color="#0023ff"/><stop offset="0.967" stop-color="#0007ff"/><stop offset="0.983" stop-color="#0000ff"/><stop offset="1" stop-color="#0000ff"/></linearGradient>
<linearGradient id="m1_12g" gradientUnits="userSpaceOnUse" x1="2015.9" y1="0" x2="2064.4" y2="0"><stop offset="0" stop-color="#fff" stop-opacity="0"/><stop offset="1" stop-color="#fff" stop-opacity="1"/></linearGradient><mask id="m1_12" maskUnits="userSpaceOnUse" x="2015.9" y="2232" width="48.5" height="1015.4"><rect x="2015.9" y="2232" width="48.5" height="1015.4" fill="url(#m1_12g)"/></mask>
<clipPath id="clipf1"><rect x="1481.8" y="2222" width="637.2" height="1025.4"/></clipPath>
</defs>
<rect width="2119" height="3565" fill="#fff"/>
<g filter="url(#gsoft)">
<g id="legend0">
<rect x="486.5" y="40.2" width="959.5" height="170.5" fill="#fff" stroke="#686868" stroke-width="3.2"/>
<path d="M552 59.3L658.5 59.3M637.2 51.55L658.5 59.3L637.2 67.05" fill="none" stroke="#111" stroke-width="2.8" stroke-linejoin="round"/>
<text x="587.7" y="144.8" font-family="'Liberation Sans', Arial, Helvetica, sans-serif" font-weight="700" font-size="66.5" text-anchor="middle" textLength="72" lengthAdjust="spacingAndGlyphs">10</text>
<text x="496.5" y="198.8" font-family="'Liberation Sans', Arial, Helvetica, sans-serif" font-size="52.5" textLength="162" lengthAdjust="spacingAndGlyphs">u[m/s]:</text>
<rect x="738" y="54.5" width="646.5" height="79.8" fill="url(#cb0)" stroke="#111" stroke-width="1.8"/>
<path d="M830.36 54.5V134.3M922.71 54.5V134.3M1015.07 54.5V134.3M1107.43 54.5V134.3M1199.79 54.5V134.3M1292.14 54.5V134.3" stroke="#0a0a0a" stroke-width="2" fill="none"/>
<text x="736" y="199" font-family="'Liberation Sans', Arial, Helvetica, sans-serif" font-size="52" text-anchor="middle">4</text>
<text x="828.4" y="199" font-family="'Liberation Sans', Arial, Helvetica, sans-serif" font-size="52" text-anchor="middle">6</text>
<text x="920.8" y="199" font-family="'Liberation Sans', Arial, Helvetica, sans-serif" font-size="52" text-anchor="middle">8</text>
<text x="1013.2" y="199" font-family="'Liberation Sans', Arial, Helvetica, sans-serif" font-size="52" text-anchor="middle">10</text>
<text x="1105.6" y="199" font-family="'Liberation Sans', Arial, Helvetica, sans-serif" font-size="52" text-anchor="middle">12</text>
<text x="1198" y="199" font-family="'Liberation Sans', Arial, Helvetica, sans-serif" font-size="52" text-anchor="middle">14</text>
<text x="1290.4" y="199" font-family="'Liberation Sans', Arial, Helvetica, sans-serif" font-size="52" text-anchor="middle">16</text>
<text x="1382.8" y="199" font-family="'Liberation Sans', Arial, Helvetica, sans-serif" font-size="52" text-anchor="middle">18</text>
</g>
<g id="legend1">
<rect x="486.5" y="1806.2" width="959.5" height="170.5" fill="#fff" stroke="#686868" stroke-width="3.2"/>
<path d="M552 1825.3L658.5 1825.3M637.2 1817.55L658.5 1825.3L637.2 1833.05" fill="none" stroke="#111" stroke-width="2.8" stroke-linejoin="round"/>
<text x="587.7" y="1910.8" font-family="'Liberation Sans', Arial, Helvetica, sans-serif" font-weight="700" font-size="66.5" text-anchor="middle" textLength="72" lengthAdjust="spacingAndGlyphs">10</text>
<text x="496.5" y="1964.8" font-family="'Liberation Sans', Arial, Helvetica, sans-serif" font-size="52.5" textLength="162" lengthAdjust="spacingAndGlyphs">u[m/s]:</text>
<rect x="738" y="1820.5" width="646.5" height="79.8" fill="url(#cb1)" stroke="#111" stroke-width="1.8"/>
<path d="M830.36 1820.5V1900.3M922.71 1820.5V1900.3M1015.07 1820.5V1900.3M1107.43 1820.5V1900.3M1199.79 1820.5V1900.3M1292.14 1820.5V1900.3" stroke="#0a0a0a" stroke-width="2" fill="none"/>
<text x="736" y="1965" font-family="'Liberation Sans', Arial, Helvetica, sans-serif" font-size="52" text-anchor="middle">4</text>
<text x="828.4" y="1965" font-family="'Liberation Sans', Arial, Helvetica, sans-serif" font-size="52" text-anchor="middle">6</text>
<text x="920.8" y="1965" font-family="'Liberation Sans', Arial, Helvetica, sans-serif" font-size="52" text-anchor="middle">8</text>
<text x="1013.2" y="1965" font-family="'Liberation Sans', Arial, Helvetica, sans-serif" font-size="52" text-anchor="middle">10</text>
<text x="1105.6" y="1965" font-family="'Liberation Sans', Arial, Helvetica, sans-serif" font-size="52" text-anchor="middle">12</text>
<text x="1198" y="1965" font-family="'Liberation Sans', Arial, Helvetica, sans-serif" font-size="52" text-anchor="middle">14</text>
<text x="1290.4" y="1965" font-family="'Liberation Sans', Arial, Helvetica, sans-serif" font-size="52" text-anchor="middle">16</text>
<text x="1382.8" y="1965" font-family="'Liberation Sans', Arial, Helvetica, sans-serif" font-size="52" text-anchor="middle">18</text>
</g>
<g id="panel-a">
<path d="M246 290H833V284.6H898.6V1479.5H246Z" fill="url(#gt0)"/>
<g clip-path="url(#clipt0)"><g><path d="M173.6 327.95L256.9 325.45M243 320.59L256.9 325.45L243.31 331.14M264.2 327.95L347.5 325.45M333.6 320.59L347.5 325.45L333.91 331.14M354.8 327.95L438.1 325.45M424.2 320.59L438.1 325.45L424.51 331.14M445.4 327.95L528.7 325.45M514.8 320.59L528.7 325.45L515.11 331.14M536 327.95L619.3 325.45M605.4 320.59L619.3 325.45L605.71 331.14M626.6 327.95L709.9 325.45M696 320.59L709.9 325.45L696.31 331.14M717.2 327.95L800.5 325.45M786.6 320.59L800.5 325.45L786.91 331.14M807.8 327.95L891.1 325.45M877.2 320.59L891.1 325.45L877.51 331.14M173.6 376.43L256.9 373.93M243 369.07L256.9 373.93L243.31 379.62M264.2 376.43L347.5 373.93M333.6 369.07L347.5 373.93L333.91 379.62M354.8 376.43L438.1 373.93M424.2 369.07L438.1 373.93L424.51 379.62M445.4 376.43L528.7 373.93M514.8 369.07L528.7 373.93L515.11 379.62M536 376.43L619.3 373.93M605.4 369.07L619.3 373.93L605.71 379.62M626.6 376.43L709.9 373.93M696 369.07L709.9 373.93L696.31 379.62M717.2 376.43L800.5 373.93M786.6 369.07L800.5 373.93L786.91 379.62M807.8 376.43L891.1 373.93M877.2 369.07L891.1 373.93L877.51 379.62M173.6 424.91L256.9 422.41M243 417.55L256.9 422.41L243.31 428.1M264.2 424.91L347.5 422.41M333.6 417.55L347.5 422.41L333.91 428.1M354.8 424.91L438.1 422.41M424.2 417.55L438.1 422.41L424.51 428.1M445.4 424.91L528.7 422.41M514.8 417.55L528.7 422.41L515.11 428.1M536 424.91L619.3 422.41M605.4 417.55L619.3 422.41L605.71 428.1M626.6 424.91L709.9 422.41M696 417.55L709.9 422.41L696.31 428.1M717.2 424.91L800.5 422.41M786.6 417.55L800.5 422.41L786.91 428.1M807.8 424.91L891.1 422.41M877.2 417.55L891.1 422.41L877.51 428.1M173.6 473.39L256.9 470.89M243 466.03L256.9 470.89L243.31 476.58M264.2 473.39L347.5 470.89M333.6 466.03L347.5 470.89L333.91 476.58M354.8 473.39L438.1 470.89M424.2 466.03L438.1 470.89L424.51 476.58M445.4 473.39L528.7 470.89M514.8 466.03L528.7 470.89L515.11 476.58M536 473.39L619.3 470.89M605.4 466.03L619.3 470.89L605.71 476.58M626.6 473.39L709.9 470.89M696 466.03L709.9 470.89L696.31 476.58M717.2 473.39L800.5 470.89M786.6 466.03L800.5 470.89L786.91 476.58M807.8 473.39L891.1 470.89M877.2 466.03L891.1 470.89L877.51 476.58M173.6 521.87L256.9 519.37M243 514.51L256.9 519.37L243.31 525.06M264.2 521.87L347.5 519.37M333.6 514.51L347.5 519.37L333.91 525.06M354.8 521.87L438.1 519.37M424.2 514.51L438.1 519.37L424.51 525.06M445.4 521.87L528.7 519.37M514.8 514.51L528.7 519.37L515.11 525.06M536 521.87L619.3 519.37M605.4 514.51L619.3 519.37L605.71 525.06M626.6 521.87L709.9 519.37M696 514.51L709.9 519.37L696.31 525.06M717.2 521.87L800.5 519.37M786.6 514.51L800.5 519.37L786.91 525.06M807.8 521.87L891.1 519.37M877.2 514.51L891.1 519.37L877.51 525.06M173.6 570.33L255.9 567.87M242.16 563.06L255.9 567.87L242.48 573.49M264.2 570.33L346.5 567.87M332.76 563.06L346.5 567.87L333.08 573.49M354.8 570.33L437.1 567.87M423.36 563.06L437.1 567.87L423.68 573.49M445.4 570.33L527.7 567.87M513.96 563.06L527.7 567.87L514.28 573.49M536 570.33L618.3 567.87M604.56 563.06L618.3 567.87L604.88 573.49M626.6 570.33L708.9 567.87M695.16 563.06L708.9 567.87L695.48 573.49M717.2 570.33L799.5 567.87M785.76 563.06L799.5 567.87L786.08 573.49M807.8 570.33L890.1 567.87M876.36 563.06L890.1 567.87L876.68 573.49M173.6 618.78L253.9 616.38M240.5 611.69L253.9 616.38L240.8 621.86M264.2 618.78L344.5 616.38M331.1 611.69L344.5 616.38L331.4 621.86M354.8 618.78L435.1 616.38M421.7 611.69L435.1 616.38L422 621.86M445.4 618.78L525.7 616.38M512.3 611.69L525.7 616.38L512.6 621.86M536 618.78L616.3 616.38M602.9 611.69L616.3 616.38L603.2 621.86M626.6 618.78L706.9 616.38M693.5 611.69L706.9 616.38L693.8 621.86M717.2 618.78L797.5 616.38M784.1 611.69L797.5 616.38L784.4 621.86M807.8 618.78L888.1 616.38M874.7 611.69L888.1 616.38L875 621.86M173.6 667.26L253.9 664.86M240.5 660.17L253.9 664.86L240.8 670.34M264.2 667.26L344.5 664.86M331.1 660.17L344.5 664.86L331.4 670.34M354.8 667.26L435.1 664.86M421.7 660.17L435.1 664.86L422 670.34M445.4 667.26L525.7 664.86M512.3 660.17L525.7 664.86L512.6 670.34M536 667.26L616.3 664.86M602.9 660.17L616.3 664.86L603.2 670.34M626.6 667.26L706.9 664.86M693.5 660.17L706.9 664.86L693.8 670.34M717.2 667.26L797.5 664.86M784.1 660.17L797.5 664.86L784.4 670.34M807.8 667.26L888.1 664.86M874.7 660.17L888.1 664.86L875 670.34M173.6 715.71L251.9 713.37M238.83 708.79L251.9 713.37L239.13 718.71M264.2 715.71L342.5 713.37M329.43 708.79L342.5 713.37L329.73 718.71M354.8 715.71L433.1 713.37M420.03 708.79L433.1 713.37L420.33 718.71M445.4 715.71L523.7 713.37M510.63 708.79L523.7 713.37L510.93 718.71M536 715.71L614.3 713.37M601.23 708.79L614.3 713.37L601.53 718.71M626.6 715.71L704.9 713.37M691.83 708.79L704.9 713.37L692.13 718.71M717.2 715.71L795.5 713.37M782.43 708.79L795.5 713.37L782.73 718.71M807.8 715.71L886.1 713.37M873.03 708.79L886.1 713.37L873.33 718.71M173.6 764.18L250.9 761.86M238 757.35L250.9 761.86L238.29 767.14M264.2 764.18L341.5 761.86M328.6 757.35L341.5 761.86L328.89 767.14M354.8 764.18L432.1 761.86M419.2 757.35L432.1 761.86L419.49 767.14M445.4 764.18L522.7 761.86M509.8 757.35L522.7 761.86L510.09 767.14M536 764.18L613.3 761.86M600.4 757.35L613.3 761.86L600.69 767.14M626.6 764.18L703.9 761.86M691 757.35L703.9 761.86L691.29 767.14M717.2 764.18L794.5 761.86M781.6 757.35L794.5 761.86L781.89 767.14M807.8 764.18L885.1 761.86M872.2 757.35L885.1 761.86L872.49 767.14M173.6 812.67L251.9 810.33M238.83 805.75L251.9 810.33L239.13 815.67M264.2 812.67L342.5 810.33M329.43 805.75L342.5 810.33L329.73 815.67M354.8 812.67L433.1 810.33M420.03 805.75L433.1 810.33L420.33 815.67M445.4 812.67L523.7 810.33M510.63 805.75L523.7 810.33L510.93 815.67M536 812.67L614.3 810.33M601.23 805.75L614.3 810.33L601.53 815.67M626.6 812.67L704.9 810.33M691.83 805.75L704.9 810.33L692.13 815.67M717.2 812.67L795.5 810.33M782.43 805.75L795.5 810.33L782.73 815.67M807.8 812.67L886.1 810.33M873.03 805.75L886.1 810.33L873.33 815.67M173.6 861.12L249.9 858.84M237.17 854.38L249.9 858.84L237.46 864.05M264.2 861.12L340.5 858.84M327.77 854.38L340.5 858.84L328.06 864.05M354.8 861.12L431.1 858.84M418.37 854.38L431.1 858.84L418.66 864.05M445.4 861.12L521.7 858.84M508.97 854.38L521.7 858.84L509.26 864.05M536 861.12L612.3 858.84M599.57 854.38L612.3 858.84L599.86 864.05M626.6 861.12L702.9 858.84M690.17 854.38L702.9 858.84L690.46 864.05M717.2 861.12L793.5 858.84M780.77 854.38L793.5 858.84L781.06 864.05M807.8 861.12L884.1 858.84M871.37 854.38L884.1 858.84L871.66 864.05M173.6 909.03L249.9 907.89M237.24 903.24L249.9 907.89L237.38 912.91M264.2 909.03L340.5 907.89M327.84 903.24L340.5 907.89L327.98 912.91M354.8 909.03L431.1 907.89M418.44 903.24L431.1 907.89L418.58 912.91M445.4 909.03L521.7 907.89M509.04 903.24L521.7 907.89L509.18 912.91M536 909.03L612.3 907.89M599.64 903.24L612.3 907.89L599.78 912.91M626.6 909.03L702.9 907.89M690.24 903.24L702.9 907.89L690.38 912.91M717.2 909.03L793.5 907.89M780.84 903.24L793.5 907.89L780.98 912.91M807.8 909.03L884.1 907.89M871.44 903.24L884.1 907.89L871.58 912.91M173.6 957.5L247.9 956.38M235.57 951.86L247.9 956.38L235.71 961.27M264.2 957.5L338.5 956.38M326.17 951.86L338.5 956.38L326.31 961.27M354.8 957.5L429.1 956.38M416.77 951.86L429.1 956.38L416.91 961.27M445.4 957.5L519.7 956.38M507.37 951.86L519.7 956.38L507.51 961.27M536 957.5L610.3 956.38M597.97 951.86L610.3 956.38L598.11 961.27M626.6 957.5L700.9 956.38M688.57 951.86L700.9 956.38L688.71 961.27M717.2 957.5L791.5 956.38M779.17 951.86L791.5 956.38L779.31 961.27M807.8 957.5L882.1 956.38M869.77 951.86L882.1 956.38L869.91 961.27M173.6 1005.97L246.9 1004.87M234.74 1000.41L246.9 1004.87L234.88 1009.69M264.2 1005.97L337.5 1004.87M325.34 1000.41L337.5 1004.87L325.48 1009.69M354.8 1005.97L428.1 1004.87M415.94 1000.41L428.1 1004.87L416.08 1009.69M445.4 1005.97L518.7 1004.87M506.54 1000.41L518.7 1004.87L506.68 1009.69M536 1005.97L609.3 1004.87M597.14 1000.41L609.3 1004.87L597.28 1009.69M626.6 1005.97L699.9 1004.87M687.74 1000.41L699.9 1004.87L687.88 1009.69M717.2 1005.97L790.5 1004.87M778.34 1000.41L790.5 1004.87L778.48 1009.69M807.8 1005.97L881.1 1004.87M868.94 1000.41L881.1 1004.87L869.08 1009.69M173.6 1054.44L245.9 1053.36M233.9 1048.96L245.9 1053.36L234.04 1058.12M264.2 1054.44L336.5 1053.36M324.5 1048.96L336.5 1053.36L324.64 1058.12M354.8 1054.44L427.1 1053.36M415.1 1048.96L427.1 1053.36L415.24 1058.12M445.4 1054.44L517.7 1053.36M505.7 1048.96L517.7 1053.36L505.84 1058.12M536 1054.44L608.3 1053.36M596.3 1048.96L608.3 1053.36L596.44 1058.12M626.6 1054.44L698.9 1053.36M686.9 1048.96L698.9 1053.36L687.04 1058.12M717.2 1054.44L789.5 1053.36M777.5 1048.96L789.5 1053.36L777.64 1058.12M807.8 1054.44L880.1 1053.36M868.1 1048.96L880.1 1053.36L868.24 1058.12M173.6 1102.91L244.9 1101.85M233.07 1097.51L244.9 1101.85L233.2 1106.54M264.2 1102.91L335.5 1101.85M323.67 1097.51L335.5 1101.85L323.8 1106.54M354.8 1102.91L426.1 1101.85M414.27 1097.51L426.1 1101.85L414.4 1106.54M445.4 1102.91L516.7 1101.85M504.87 1097.51L516.7 1101.85L505 1106.54M536 1102.91L607.3 1101.85M595.47 1097.51L607.3 1101.85L595.6 1106.54M626.6 1102.91L697.9 1101.85M686.07 1097.51L697.9 1101.85L686.2 1106.54M717.2 1102.91L788.5 1101.85M776.67 1097.51L788.5 1101.85L776.8 1106.54M807.8 1102.91L879.1 1101.85M867.27 1097.51L879.1 1101.85L867.4 1106.54M173.6 1151.38L242.9 1150.34M231.4 1146.12L242.9 1150.34L231.53 1154.9M264.2 1151.38L333.5 1150.34M322 1146.12L333.5 1150.34L322.13 1154.9M354.8 1151.38L424.1 1150.34M412.6 1146.12L424.1 1150.34L412.73 1154.9M445.4 1151.38L514.7 1150.34M503.2 1146.12L514.7 1150.34L503.33 1154.9M536 1151.38L605.3 1150.34M593.8 1146.12L605.3 1150.34L593.93 1154.9M626.6 1151.38L695.9 1150.34M684.4 1146.12L695.9 1150.34L684.53 1154.9M717.2 1151.38L786.5 1150.34M775 1146.12L786.5 1150.34L775.13 1154.9M807.8 1151.38L877.1 1150.34M865.6 1146.12L877.1 1150.34L865.73 1154.9M173.6 1199L241.9 1199.68M230.67 1195.24L241.9 1199.68L230.59 1203.89M264.2 1199L332.5 1199.68M321.27 1195.24L332.5 1199.68L321.19 1203.89M354.8 1199L423.1 1199.68M411.87 1195.24L423.1 1199.68L411.79 1203.89M445.4 1199L513.7 1199.68M502.47 1195.24L513.7 1199.68L502.39 1203.89M536 1199L604.3 1199.68M593.07 1195.24L604.3 1199.68L592.99 1203.89M626.6 1199L694.9 1199.68M683.67 1195.24L694.9 1199.68L683.59 1203.89M717.2 1199L785.5 1199.68M774.27 1195.24L785.5 1199.68L774.19 1203.89M807.8 1199L876.1 1199.68M864.87 1195.24L876.1 1199.68L864.79 1203.89M173.6 1247.48L240.9 1248.16M229.84 1243.78L240.9 1248.16L229.75 1252.31M264.2 1247.48L331.5 1248.16M320.44 1243.78L331.5 1248.16L320.35 1252.31M354.8 1247.48L422.1 1248.16M411.04 1243.78L422.1 1248.16L410.95 1252.31M445.4 1247.48L512.7 1248.16M501.64 1243.78L512.7 1248.16L501.55 1252.31M536 1247.48L603.3 1248.16M592.24 1243.78L603.3 1248.16L592.15 1252.31M626.6 1247.48L693.9 1248.16M682.84 1243.78L693.9 1248.16L682.75 1252.31M717.2 1247.48L784.5 1248.16M773.44 1243.78L784.5 1248.16L773.35 1252.31M807.8 1247.48L875.1 1248.16M864.04 1243.78L875.1 1248.16L863.95 1252.31M173.6 1295.97L238.9 1296.63M228.17 1292.38L238.9 1296.63L228.08 1300.65M264.2 1295.97L329.5 1296.63M318.77 1292.38L329.5 1296.63L318.68 1300.65M354.8 1295.97L420.1 1296.63M409.37 1292.38L420.1 1296.63L409.28 1300.65M445.4 1295.97L510.7 1296.63M499.97 1292.38L510.7 1296.63L499.88 1300.65M536 1295.97L601.3 1296.63M590.57 1292.38L601.3 1296.63L590.48 1300.65M626.6 1295.97L691.9 1296.63M681.17 1292.38L691.9 1296.63L681.08 1300.65M717.2 1295.97L782.5 1296.63M771.77 1292.38L782.5 1296.63L771.68 1300.65M807.8 1295.97L873.1 1296.63M862.37 1292.38L873.1 1296.63L862.28 1300.65M173.6 1344.46L237.9 1345.1M227.33 1340.92L237.9 1345.1L227.25 1349.07M264.2 1344.46L328.5 1345.1M317.93 1340.92L328.5 1345.1L317.85 1349.07M354.8 1344.46L419.1 1345.1M408.53 1340.92L419.1 1345.1L408.45 1349.07M445.4 1344.46L509.7 1345.1M499.13 1340.92L509.7 1345.1L499.05 1349.07M536 1344.46L600.3 1345.1M589.73 1340.92L600.3 1345.1L589.65 1349.07M626.6 1344.46L690.9 1345.1M680.33 1340.92L690.9 1345.1L680.25 1349.07M717.2 1344.46L781.5 1345.1M770.93 1340.92L781.5 1345.1L770.85 1349.07M807.8 1344.46L872.1 1345.1M861.53 1340.92L872.1 1345.1L861.45 1349.07M173.6 1392.95L235.9 1393.57M225.66 1389.52L235.9 1393.57L225.58 1397.41M264.2 1392.95L326.5 1393.57M316.26 1389.52L326.5 1393.57L316.18 1397.41M354.8 1392.95L417.1 1393.57M406.86 1389.52L417.1 1393.57L406.78 1397.41M445.4 1392.95L507.7 1393.57M497.46 1389.52L507.7 1393.57L497.38 1397.41M536 1392.95L598.3 1393.57M588.06 1389.52L598.3 1393.57L587.98 1397.41M626.6 1392.95L688.9 1393.57M678.66 1389.52L688.9 1393.57L678.58 1397.41M717.2 1392.95L779.5 1393.57M769.26 1389.52L779.5 1393.57L769.18 1397.41M807.8 1392.95L870.1 1393.57M859.86 1389.52L870.1 1393.57L859.78 1397.41M173.6 1441.44L232.9 1442.04M223.15 1438.18L232.9 1442.04L223.08 1445.69M264.2 1441.44L323.5 1442.04M313.75 1438.18L323.5 1442.04L313.68 1445.69M354.8 1441.44L414.1 1442.04M404.35 1438.18L414.1 1442.04L404.28 1445.69M445.4 1441.44L504.7 1442.04M494.95 1438.18L504.7 1442.04L494.88 1445.69M536 1441.44L595.3 1442.04M585.55 1438.18L595.3 1442.04L585.48 1445.69M626.6 1441.44L685.9 1442.04M676.15 1438.18L685.9 1442.04L676.08 1445.69M717.2 1441.44L776.5 1442.04M766.75 1438.18L776.5 1442.04L766.68 1445.69M807.8 1441.44L867.1 1442.04M857.35 1438.18L867.1 1442.04L857.28 1445.69" fill="none" stroke="#000" stroke-width="2.5" stroke-linejoin="round"/><path d="M256.9 325.45L243 320.59L245.9 325.78L243.31 331.14ZM347.5 325.45L333.6 320.59L336.5 325.78L333.91 331.14ZM438.1 325.45L424.2 320.59L427.1 325.78L424.51 331.14ZM528.7 325.45L514.8 320.59L517.7 325.78L515.11 331.14ZM619.3 325.45L605.4 320.59L608.3 325.78L605.71 331.14ZM709.9 325.45L696 320.59L698.9 325.78L696.31 331.14ZM800.5 325.45L786.6 320.59L789.5 325.78L786.91 331.14ZM891.1 325.45L877.2 320.59L880.1 325.78L877.51 331.14ZM256.9 373.93L243 369.07L245.9 374.26L243.31 379.62ZM347.5 373.93L333.6 369.07L336.5 374.26L333.91 379.62ZM438.1 373.93L424.2 369.07L427.1 374.26L424.51 379.62ZM528.7 373.93L514.8 369.07L517.7 374.26L515.11 379.62ZM619.3 373.93L605.4 369.07L608.3 374.26L605.71 379.62ZM709.9 373.93L696 369.07L698.9 374.26L696.31 379.62ZM800.5 373.93L786.6 369.07L789.5 374.26L786.91 379.62ZM891.1 373.93L877.2 369.07L880.1 374.26L877.51 379.62ZM256.9 422.41L243 417.55L245.9 422.74L243.31 428.1ZM347.5 422.41L333.6 417.55L336.5 422.74L333.91 428.1ZM438.1 422.41L424.2 417.55L427.1 422.74L424.51 428.1ZM528.7 422.41L514.8 417.55L517.7 422.74L515.11 428.1ZM619.3 422.41L605.4 417.55L608.3 422.74L605.71 428.1ZM709.9 422.41L696 417.55L698.9 422.74L696.31 428.1ZM800.5 422.41L786.6 417.55L789.5 422.74L786.91 428.1ZM891.1 422.41L877.2 417.55L880.1 422.74L877.51 428.1ZM256.9 470.89L243 466.03L245.9 471.22L243.31 476.58ZM347.5 470.89L333.6 466.03L336.5 471.22L333.91 476.58ZM438.1 470.89L424.2 466.03L427.1 471.22L424.51 476.58ZM528.7 470.89L514.8 466.03L517.7 471.22L515.11 476.58ZM619.3 470.89L605.4 466.03L608.3 471.22L605.71 476.58ZM709.9 470.89L696 466.03L698.9 471.22L696.31 476.58ZM800.5 470.89L786.6 466.03L789.5 471.22L786.91 476.58ZM891.1 470.89L877.2 466.03L880.1 471.22L877.51 476.58ZM256.9 519.37L243 514.51L245.9 519.7L243.31 525.06ZM347.5 519.37L333.6 514.51L336.5 519.7L333.91 525.06ZM438.1 519.37L424.2 514.51L427.1 519.7L424.51 525.06ZM528.7 519.37L514.8 514.51L517.7 519.7L515.11 525.06ZM619.3 519.37L605.4 514.51L608.3 519.7L605.71 525.06ZM709.9 519.37L696 514.51L698.9 519.7L696.31 525.06ZM800.5 519.37L786.6 514.51L789.5 519.7L786.91 525.06ZM891.1 519.37L877.2 514.51L880.1 519.7L877.51 525.06ZM255.9 567.87L242.16 563.06L245.04 568.19L242.48 573.49ZM346.5 567.87L332.76 563.06L335.64 568.19L333.08 573.49ZM437.1 567.87L423.36 563.06L426.24 568.19L423.68 573.49ZM527.7 567.87L513.96 563.06L516.84 568.19L514.28 573.49ZM618.3 567.87L604.56 563.06L607.44 568.19L604.88 573.49ZM708.9 567.87L695.16 563.06L698.04 568.19L695.48 573.49ZM799.5 567.87L785.76 563.06L788.64 568.19L786.08 573.49ZM890.1 567.87L876.36 563.06L879.24 568.19L876.68 573.49ZM253.9 616.38L240.5 611.69L243.3 616.69L240.8 621.86ZM344.5 616.38L331.1 611.69L333.9 616.69L331.4 621.86ZM435.1 616.38L421.7 611.69L424.5 616.69L422 621.86ZM525.7 616.38L512.3 611.69L515.1 616.69L512.6 621.86ZM616.3 616.38L602.9 611.69L605.7 616.69L603.2 621.86ZM706.9 616.38L693.5 611.69L696.3 616.69L693.8 621.86ZM797.5 616.38L784.1 611.69L786.9 616.69L784.4 621.86ZM888.1 616.38L874.7 611.69L877.5 616.69L875 621.86ZM253.9 664.86L240.5 660.17L243.3 665.17L240.8 670.34ZM344.5 664.86L331.1 660.17L333.9 665.17L331.4 670.34ZM435.1 664.86L421.7 660.17L424.5 665.17L422 670.34ZM525.7 664.86L512.3 660.17L515.1 665.17L512.6 670.34ZM616.3 664.86L602.9 660.17L605.7 665.17L603.2 670.34ZM706.9 664.86L693.5 660.17L696.3 665.17L693.8 670.34ZM797.5 664.86L784.1 660.17L786.9 665.17L784.4 670.34ZM888.1 664.86L874.7 660.17L877.5 665.17L875 670.34ZM251.9 713.37L238.83 708.79L241.56 713.68L239.13 718.71ZM342.5 713.37L329.43 708.79L332.16 713.68L329.73 718.71ZM433.1 713.37L420.03 708.79L422.76 713.68L420.33 718.71ZM523.7 713.37L510.63 708.79L513.36 713.68L510.93 718.71ZM614.3 713.37L601.23 708.79L603.96 713.68L601.53 718.71ZM704.9 713.37L691.83 708.79L694.56 713.68L692.13 718.71ZM795.5 713.37L782.43 708.79L785.16 713.68L782.73 718.71ZM886.1 713.37L873.03 708.79L875.76 713.68L873.33 718.71ZM250.9 761.86L238 757.35L240.7 762.17L238.29 767.14ZM341.5 761.86L328.6 757.35L331.3 762.17L328.89 767.14ZM432.1 761.86L419.2 757.35L421.9 762.17L419.49 767.14ZM522.7 761.86L509.8 757.35L512.5 762.17L510.09 767.14ZM613.3 761.86L600.4 757.35L603.1 762.17L600.69 767.14ZM703.9 761.86L691 757.35L693.7 762.17L691.29 767.14ZM794.5 761.86L781.6 757.35L784.3 762.17L781.89 767.14ZM885.1 761.86L872.2 757.35L874.9 762.17L872.49 767.14ZM251.9 810.33L238.83 805.75L241.56 810.64L239.13 815.67ZM342.5 810.33L329.43 805.75L332.16 810.64L329.73 815.67ZM433.1 810.33L420.03 805.75L422.76 810.64L420.33 815.67ZM523.7 810.33L510.63 805.75L513.36 810.64L510.93 815.67ZM614.3 810.33L601.23 805.75L603.96 810.64L601.53 815.67ZM704.9 810.33L691.83 805.75L694.56 810.64L692.13 815.67ZM795.5 810.33L782.43 805.75L785.16 810.64L782.73 815.67ZM886.1 810.33L873.03 805.75L875.76 810.64L873.33 815.67ZM249.9 858.84L237.17 854.38L239.83 859.14L237.46 864.05ZM340.5 858.84L327.77 854.38L330.43 859.14L328.06 864.05ZM431.1 858.84L418.37 854.38L421.03 859.14L418.66 864.05ZM521.7 858.84L508.97 854.38L511.63 859.14L509.26 864.05ZM612.3 858.84L599.57 854.38L602.23 859.14L599.86 864.05ZM702.9 858.84L690.17 854.38L692.83 859.14L690.46 864.05ZM793.5 858.84L780.77 854.38L783.43 859.14L781.06 864.05ZM884.1 858.84L871.37 854.38L874.03 859.14L871.66 864.05ZM249.9 907.89L237.24 903.24L239.83 908.04L237.38 912.91ZM340.5 907.89L327.84 903.24L330.43 908.04L327.98 912.91ZM431.1 907.89L418.44 903.24L421.03 908.04L418.58 912.91ZM521.7 907.89L509.04 903.24L511.63 908.04L509.18 912.91ZM612.3 907.89L599.64 903.24L602.23 908.04L599.78 912.91ZM702.9 907.89L690.24 903.24L692.83 908.04L690.38 912.91ZM793.5 907.89L780.84 903.24L783.43 908.04L780.98 912.91ZM884.1 907.89L871.44 903.24L874.03 908.04L871.58 912.91ZM247.9 956.38L235.57 951.86L238.09 956.53L235.71 961.27ZM338.5 956.38L326.17 951.86L328.69 956.53L326.31 961.27ZM429.1 956.38L416.77 951.86L419.29 956.53L416.91 961.27ZM519.7 956.38L507.37 951.86L509.89 956.53L507.51 961.27ZM610.3 956.38L597.97 951.86L600.49 956.53L598.11 961.27ZM700.9 956.38L688.57 951.86L691.09 956.53L688.71 961.27ZM791.5 956.38L779.17 951.86L781.69 956.53L779.31 961.27ZM882.1 956.38L869.77 951.86L872.29 956.53L869.91 961.27ZM246.9 1004.87L234.74 1000.41L237.22 1005.02L234.88 1009.69ZM337.5 1004.87L325.34 1000.41L327.82 1005.02L325.48 1009.69ZM428.1 1004.87L415.94 1000.41L418.42 1005.02L416.08 1009.69ZM518.7 1004.87L506.54 1000.41L509.02 1005.02L506.68 1009.69ZM609.3 1004.87L597.14 1000.41L599.62 1005.02L597.28 1009.69ZM699.9 1004.87L687.74 1000.41L690.22 1005.02L687.88 1009.69ZM790.5 1004.87L778.34 1000.41L780.82 1005.02L778.48 1009.69ZM881.1 1004.87L868.94 1000.41L871.42 1005.02L869.08 1009.69ZM245.9 1053.36L233.9 1048.96L236.36 1053.5L234.04 1058.12ZM336.5 1053.36L324.5 1048.96L326.96 1053.5L324.64 1058.12ZM427.1 1053.36L415.1 1048.96L417.56 1053.5L415.24 1058.12ZM517.7 1053.36L505.7 1048.96L508.16 1053.5L505.84 1058.12ZM608.3 1053.36L596.3 1048.96L598.76 1053.5L596.44 1058.12ZM698.9 1053.36L686.9 1048.96L689.36 1053.5L687.04 1058.12ZM789.5 1053.36L777.5 1048.96L779.96 1053.5L777.64 1058.12ZM880.1 1053.36L868.1 1048.96L870.56 1053.5L868.24 1058.12ZM244.9 1101.85L233.07 1097.51L235.49 1101.99L233.2 1106.54ZM335.5 1101.85L323.67 1097.51L326.09 1101.99L323.8 1106.54ZM426.1 1101.85L414.27 1097.51L416.69 1101.99L414.4 1106.54ZM516.7 1101.85L504.87 1097.51L507.29 1101.99L505 1106.54ZM607.3 1101.85L595.47 1097.51L597.89 1101.99L595.6 1106.54ZM697.9 1101.85L686.07 1097.51L688.49 1101.99L686.2 1106.54ZM788.5 1101.85L776.67 1097.51L779.09 1101.99L776.8 1106.54ZM879.1 1101.85L867.27 1097.51L869.69 1101.99L867.4 1106.54ZM242.9 1150.34L231.4 1146.12L233.75 1150.48L231.53 1154.9ZM333.5 1150.34L322 1146.12L324.35 1150.48L322.13 1154.9ZM424.1 1150.34L412.6 1146.12L414.95 1150.48L412.73 1154.9ZM514.7 1150.34L503.2 1146.12L505.55 1150.48L503.33 1154.9ZM605.3 1150.34L593.8 1146.12L596.15 1150.48L593.93 1154.9ZM695.9 1150.34L684.4 1146.12L686.75 1150.48L684.53 1154.9ZM786.5 1150.34L775 1146.12L777.35 1150.48L775.13 1154.9ZM877.1 1150.34L865.6 1146.12L867.95 1150.48L865.73 1154.9ZM241.9 1199.68L230.67 1195.24L232.88 1199.59L230.59 1203.89ZM332.5 1199.68L321.27 1195.24L323.48 1199.59L321.19 1203.89ZM423.1 1199.68L411.87 1195.24L414.08 1199.59L411.79 1203.89ZM513.7 1199.68L502.47 1195.24L504.68 1199.59L502.39 1203.89ZM604.3 1199.68L593.07 1195.24L595.28 1199.59L592.99 1203.89ZM694.9 1199.68L683.67 1195.24L685.88 1199.59L683.59 1203.89ZM785.5 1199.68L774.27 1195.24L776.48 1199.59L774.19 1203.89ZM876.1 1199.68L864.87 1195.24L867.08 1199.59L864.79 1203.89ZM240.9 1248.16L229.84 1243.78L232.02 1248.07L229.75 1252.31ZM331.5 1248.16L320.44 1243.78L322.62 1248.07L320.35 1252.31ZM422.1 1248.16L411.04 1243.78L413.22 1248.07L410.95 1252.31ZM512.7 1248.16L501.64 1243.78L503.82 1248.07L501.55 1252.31ZM603.3 1248.16L592.24 1243.78L594.42 1248.07L592.15 1252.31ZM693.9 1248.16L682.84 1243.78L685.02 1248.07L682.75 1252.31ZM784.5 1248.16L773.44 1243.78L775.62 1248.07L773.35 1252.31ZM875.1 1248.16L864.04 1243.78L866.22 1248.07L863.95 1252.31ZM238.9 1296.63L228.17 1292.38L230.28 1296.54L228.08 1300.65ZM329.5 1296.63L318.77 1292.38L320.88 1296.54L318.68 1300.65ZM420.1 1296.63L409.37 1292.38L411.48 1296.54L409.28 1300.65ZM510.7 1296.63L499.97 1292.38L502.08 1296.54L499.88 1300.65ZM601.3 1296.63L590.57 1292.38L592.68 1296.54L590.48 1300.65ZM691.9 1296.63L681.17 1292.38L683.28 1296.54L681.08 1300.65ZM782.5 1296.63L771.77 1292.38L773.88 1296.54L771.68 1300.65ZM873.1 1296.63L862.37 1292.38L864.48 1296.54L862.28 1300.65ZM237.9 1345.1L227.33 1340.92L229.41 1345.02L227.25 1349.07ZM328.5 1345.1L317.93 1340.92L320.01 1345.02L317.85 1349.07ZM419.1 1345.1L408.53 1340.92L410.61 1345.02L408.45 1349.07ZM509.7 1345.1L499.13 1340.92L501.21 1345.02L499.05 1349.07ZM600.3 1345.1L589.73 1340.92L591.81 1345.02L589.65 1349.07ZM690.9 1345.1L680.33 1340.92L682.41 1345.02L680.25 1349.07ZM781.5 1345.1L770.93 1340.92L773.01 1345.02L770.85 1349.07ZM872.1 1345.1L861.53 1340.92L863.61 1345.02L861.45 1349.07ZM235.9 1393.57L225.66 1389.52L227.68 1393.49L225.58 1397.41ZM326.5 1393.57L316.26 1389.52L318.28 1393.49L316.18 1397.41ZM417.1 1393.57L406.86 1389.52L408.88 1393.49L406.78 1397.41ZM507.7 1393.57L497.46 1389.52L499.48 1393.49L497.38 1397.41ZM598.3 1393.57L588.06 1389.52L590.08 1393.49L587.98 1397.41ZM688.9 1393.57L678.66 1389.52L680.68 1393.49L678.58 1397.41ZM779.5 1393.57L769.26 1389.52L771.28 1393.49L769.18 1397.41ZM870.1 1393.57L859.86 1389.52L861.88 1393.49L859.78 1397.41ZM232.9 1442.04L223.15 1438.18L225.07 1441.96L223.08 1445.69ZM323.5 1442.04L313.75 1438.18L315.67 1441.96L313.68 1445.69ZM414.1 1442.04L404.35 1438.18L406.27 1441.96L404.28 1445.69ZM504.7 1442.04L494.95 1438.18L496.87 1441.96L494.88 1445.69ZM595.3 1442.04L585.55 1438.18L587.47 1441.96L585.48 1445.69ZM685.9 1442.04L676.15 1438.18L678.07 1441.96L676.08 1445.69ZM776.5 1442.04L766.75 1438.18L768.67 1441.96L766.68 1445.69ZM867.1 1442.04L857.35 1438.18L859.27 1441.96L857.28 1445.69Z" fill="#000" fill-opacity="0.8"/></g></g>
<path d="M246.4 1429.15H268M246.4 1370.3H268M246.4 1311.45H268M246.4 1193.75H268M246.4 1134.9H268M246.4 1076.05H268M246.4 958.35H268M246.4 899.5H268M246.4 840.65H268M246.4 722.95H268M246.4 664.1H268M246.4 605.25H268M246.4 487.55H268M246.4 428.7H268M246.4 369.85H268M361.22 1451V1474.5M478.64 1451V1474.5M596.06 1451V1474.5M713.48 1451V1474.5" fill="none" stroke="#000" stroke-width="1.6"/>
<path d="M246.4 1252.6H284.5M246.4 1017.2H284.5M246.4 781.8H284.5M246.4 546.4H284.5M246.4 311H284.5" fill="none" stroke="#000" stroke-width="8"/>
<path d="M831.3 1436V1474.5" fill="none" stroke="#000" stroke-width="7"/>
<rect x="238.7" y="254.3" width="8.7" height="1227.2" fill="#000"/>
<rect x="238.7" y="1473.5" width="659.9" height="8" fill="#000"/>
<text x="217.6" y="1275.2" font-family="'Liberation Sans', Arial, Helvetica, sans-serif" font-size="66" stroke="#fff" stroke-width="0.5" text-anchor="end">20</text>
<text x="217.6" y="1039.8" font-family="'Liberation Sans', Arial, Helvetica, sans-serif" font-size="66" stroke="#fff" stroke-width="0.5" text-anchor="end">40</text>
<text x="217.6" y="804.4" font-family="'Liberation Sans', Arial, Helvetica, sans-serif" font-size="66" stroke="#fff" stroke-width="0.5" text-anchor="end">60</text>
<text x="217.6" y="569" font-family="'Liberation Sans', Arial, Helvetica, sans-serif" font-size="66" stroke="#fff" stroke-width="0.5" text-anchor="end">80</text>
<text x="217.6" y="333.6" font-family="'Liberation Sans', Arial, Helvetica, sans-serif" font-size="66" stroke="#fff" stroke-width="0.5" text-anchor="end" textLength="106" lengthAdjust="spacingAndGlyphs">100</text>
<text x="241" y="1542" font-family="'Liberation Sans', Arial, Helvetica, sans-serif" font-size="64.5" stroke="#fff" stroke-width="0.5" text-anchor="middle">0</text>
<text x="830" y="1542" font-family="'Liberation Sans', Arial, Helvetica, sans-serif" font-size="64.5" stroke="#fff" stroke-width="0.5" text-anchor="middle">50</text>
<text x="694.2" y="1621.5" font-family="'Liberation Sans', Arial, Helvetica, sans-serif" font-weight="700" font-size="76" text-anchor="middle">x[mm]</text>
<text transform="translate(100 662.6) rotate(-90)" font-family="'Liberation Sans', Arial, Helvetica, sans-serif" font-weight="700" font-size="76" text-anchor="middle">y[mm]</text>
</g>
<g id="panel-c">
<path d="M246 2056H833V2050.6H898.6V3245.5H246Z" fill="url(#gt1)"/>
<g clip-path="url(#clipt1)"><g><path d="M173.6 2093.84L287.6 2091.56M268.65 2084.72L287.6 2091.56L268.93 2099.16M264.2 2093.84L378.2 2091.56M359.25 2084.72L378.2 2091.56L359.53 2099.16M354.8 2093.84L468.8 2091.56M449.85 2084.72L468.8 2091.56L450.13 2099.16M445.4 2093.84L559.4 2091.56M540.45 2084.72L559.4 2091.56L540.73 2099.16M536 2093.84L650 2091.56M631.05 2084.72L650 2091.56L631.33 2099.16M626.6 2093.84L740.6 2091.56M721.65 2084.72L740.6 2091.56L721.93 2099.16M717.2 2093.84L831.2 2091.56M812.25 2084.72L831.2 2091.56L812.53 2099.16M807.8 2093.84L921.8 2091.56M902.85 2084.72L921.8 2091.56L903.13 2099.16M173.6 2142.32L287.6 2140.04M268.65 2133.2L287.6 2140.04L268.93 2147.64M264.2 2142.32L378.2 2140.04M359.25 2133.2L378.2 2140.04L359.53 2147.64M354.8 2142.32L468.8 2140.04M449.85 2133.2L468.8 2140.04L450.13 2147.64M445.4 2142.32L559.4 2140.04M540.45 2133.2L559.4 2140.04L540.73 2147.64M536 2142.32L650 2140.04M631.05 2133.2L650 2140.04L631.33 2147.64M626.6 2142.32L740.6 2140.04M721.65 2133.2L740.6 2140.04L721.93 2147.64M717.2 2142.32L831.2 2140.04M812.25 2133.2L831.2 2140.04L812.53 2147.64M807.8 2142.32L921.8 2140.04M902.85 2133.2L921.8 2140.04L903.13 2147.64M173.6 2190.8L287.6 2188.52M268.65 2181.68L287.6 2188.52L268.93 2196.12M264.2 2190.8L378.2 2188.52M359.25 2181.68L378.2 2188.52L359.53 2196.12M354.8 2190.8L468.8 2188.52M449.85 2181.68L468.8 2188.52L450.13 2196.12M445.4 2190.8L559.4 2188.52M540.45 2181.68L559.4 2188.52L540.73 2196.12M536 2190.8L650 2188.52M631.05 2181.68L650 2188.52L631.33 2196.12M626.6 2190.8L740.6 2188.52M721.65 2181.68L740.6 2188.52L721.93 2196.12M717.2 2190.8L831.2 2188.52M812.25 2181.68L831.2 2188.52L812.53 2196.12M807.8 2190.8L921.8 2188.52M902.85 2181.68L921.8 2188.52L903.13 2196.12M173.6 2239.25L284.6 2237.03M266.14 2230.37L284.6 2237.03L266.43 2244.43M264.2 2239.25L375.2 2237.03M356.74 2230.37L375.2 2237.03L357.03 2244.43M354.8 2239.25L465.8 2237.03M447.34 2230.37L465.8 2237.03L447.63 2244.43M445.4 2239.25L556.4 2237.03M537.94 2230.37L556.4 2237.03L538.23 2244.43M536 2239.25L647 2237.03M628.54 2230.37L647 2237.03L628.83 2244.43M626.6 2239.25L737.6 2237.03M719.14 2230.37L737.6 2237.03L719.43 2244.43M717.2 2239.25L828.2 2237.03M809.74 2230.37L828.2 2237.03L810.03 2244.43M807.8 2239.25L918.8 2237.03M900.34 2230.37L918.8 2237.03L900.63 2244.43M173.6 2287.76L287.6 2285.48M268.65 2278.64L287.6 2285.48L268.93 2293.08M264.2 2287.76L378.2 2285.48M359.25 2278.64L378.2 2285.48L359.53 2293.08M354.8 2287.76L468.8 2285.48M449.85 2278.64L468.8 2285.48L450.13 2293.08M445.4 2287.76L559.4 2285.48M540.45 2278.64L559.4 2285.48L540.73 2293.08M536 2287.76L650 2285.48M631.05 2278.64L650 2285.48L631.33 2293.08M626.6 2287.76L740.6 2285.48M721.65 2278.64L740.6 2285.48L721.93 2293.08M717.2 2287.76L831.2 2285.48M812.25 2278.64L831.2 2285.48L812.53 2293.08M807.8 2287.76L921.8 2285.48M902.85 2278.64L921.8 2285.48L903.13 2293.08M173.6 2336.24L287.6 2333.96M268.65 2327.12L287.6 2333.96L268.93 2341.56M264.2 2336.24L378.2 2333.96M359.25 2327.12L378.2 2333.96L359.53 2341.56M354.8 2336.24L468.8 2333.96M449.85 2327.12L468.8 2333.96L450.13 2341.56M445.4 2336.24L559.4 2333.96M540.45 2327.12L559.4 2333.96L540.73 2341.56M536 2336.24L650 2333.96M631.05 2327.12L650 2333.96L631.33 2341.56M626.6 2336.24L740.6 2333.96M721.65 2327.12L740.6 2333.96L721.93 2341.56M717.2 2336.24L831.2 2333.96M812.25 2327.12L831.2 2333.96L812.53 2341.56M807.8 2336.24L921.8 2333.96M902.85 2327.12L921.8 2333.96L903.13 2341.56M173.6 2384.66L281.6 2382.5M263.64 2376.02L281.6 2382.5L263.92 2389.7M264.2 2384.66L372.2 2382.5M354.24 2376.02L372.2 2382.5L354.52 2389.7M354.8 2384.66L462.8 2382.5M444.84 2376.02L462.8 2382.5L445.12 2389.7M445.4 2384.66L553.4 2382.5M535.44 2376.02L553.4 2382.5L535.72 2389.7M536 2384.66L644 2382.5M626.04 2376.02L644 2382.5L626.32 2389.7M626.6 2384.66L734.6 2382.5M716.64 2376.02L734.6 2382.5L716.92 2389.7M717.2 2384.66L825.2 2382.5M807.24 2376.02L825.2 2382.5L807.52 2389.7M807.8 2384.66L915.8 2382.5M897.84 2376.02L915.8 2382.5L898.12 2389.7M173.6 2433.16L283.6 2430.96M265.31 2424.36L283.6 2430.96L265.59 2438.29M264.2 2433.16L374.2 2430.96M355.91 2424.36L374.2 2430.96L356.19 2438.29M354.8 2433.16L464.8 2430.96M446.51 2424.36L464.8 2430.96L446.79 2438.29M445.4 2433.16L555.4 2430.96M537.11 2424.36L555.4 2430.96L537.39 2438.29M536 2433.16L646 2430.96M627.71 2424.36L646 2430.96L627.99 2438.29M626.6 2433.16L736.6 2430.96M718.31 2424.36L736.6 2430.96L718.59 2438.29M717.2 2433.16L827.2 2430.96M808.91 2424.36L827.2 2430.96L809.19 2438.29M807.8 2433.16L917.8 2430.96M899.51 2424.36L917.8 2430.96L899.79 2438.29M173.6 2481.59L278.6 2479.49M261.14 2473.19L278.6 2479.49L261.41 2486.49M264.2 2481.59L369.2 2479.49M351.74 2473.19L369.2 2479.49L352.01 2486.49M354.8 2481.59L459.8 2479.49M442.34 2473.19L459.8 2479.49L442.61 2486.49M445.4 2481.59L550.4 2479.49M532.94 2473.19L550.4 2479.49L533.21 2486.49M536 2481.59L641 2479.49M623.54 2473.19L641 2479.49L623.81 2486.49M626.6 2481.59L731.6 2479.49M714.14 2473.19L731.6 2479.49L714.41 2486.49M717.2 2481.59L822.2 2479.49M804.74 2473.19L822.2 2479.49L805.01 2486.49M807.8 2481.59L912.8 2479.49M895.34 2473.19L912.8 2479.49L895.61 2486.49M173.6 2530.06L277.6 2527.98M260.31 2521.74L277.6 2527.98L260.57 2534.91M264.2 2530.06L368.2 2527.98M350.91 2521.74L368.2 2527.98L351.17 2534.91M354.8 2530.06L458.8 2527.98M441.51 2521.74L458.8 2527.98L441.77 2534.91M445.4 2530.06L549.4 2527.98M532.11 2521.74L549.4 2527.98L532.37 2534.91M536 2530.06L640 2527.98M622.71 2521.74L640 2527.98L622.97 2534.91M626.6 2530.06L730.6 2527.98M713.31 2521.74L730.6 2527.98L713.57 2534.91M717.2 2530.06L821.2 2527.98M803.91 2521.74L821.2 2527.98L804.17 2534.91M807.8 2530.06L911.8 2527.98M894.51 2521.74L911.8 2527.98L894.77 2534.91M173.6 2577.5L278.6 2577.5M261.28 2570.85L278.6 2577.5L261.28 2584.15M264.2 2577.5L369.2 2577.5M351.88 2570.85L369.2 2577.5L351.88 2584.15M354.8 2577.5L459.8 2577.5M442.47 2570.85L459.8 2577.5L442.47 2584.15M445.4 2577.5L550.4 2577.5M533.07 2570.85L550.4 2577.5L533.07 2584.15M536 2577.5L641 2577.5M623.67 2570.85L641 2577.5L623.67 2584.15M626.6 2577.5L731.6 2577.5M714.27 2570.85L731.6 2577.5L714.27 2584.15M717.2 2577.5L822.2 2577.5M804.87 2570.85L822.2 2577.5L804.87 2584.15M807.8 2577.5L912.8 2577.5M895.47 2570.85L912.8 2577.5L895.47 2584.15M173.6 2625.98L276.6 2625.98M259.61 2619.46L276.6 2625.98L259.61 2632.5M264.2 2625.98L367.2 2625.98M350.2 2619.46L367.2 2625.98L350.2 2632.5M354.8 2625.98L457.8 2625.98M440.8 2619.46L457.8 2625.98L440.8 2632.5M445.4 2625.98L548.4 2625.98M531.4 2619.46L548.4 2625.98L531.4 2632.5M536 2625.98L639 2625.98M622 2619.46L639 2625.98L622 2632.5M626.6 2625.98L729.6 2625.98M712.61 2619.46L729.6 2625.98L712.61 2632.5M717.2 2625.98L820.2 2625.98M803.2 2619.46L820.2 2625.98L803.2 2632.5M807.8 2625.98L910.8 2625.98M893.8 2619.46L910.8 2625.98L893.8 2632.5M173.6 2674.46L275.6 2674.46M258.77 2668L275.6 2674.46L258.77 2680.92M264.2 2674.46L366.2 2674.46M349.37 2668L366.2 2674.46L349.37 2680.92M354.8 2674.46L456.8 2674.46M439.97 2668L456.8 2674.46L439.97 2680.92M445.4 2674.46L547.4 2674.46M530.57 2668L547.4 2674.46L530.57 2680.92M536 2674.46L638 2674.46M621.17 2668L638 2674.46L621.17 2680.92M626.6 2674.46L728.6 2674.46M711.77 2668L728.6 2674.46L711.77 2680.92M717.2 2674.46L819.2 2674.46M802.37 2668L819.2 2674.46L802.37 2680.92M807.8 2674.46L909.8 2674.46M892.97 2668L909.8 2674.46L892.97 2680.92M173.6 2722.94L271.6 2722.94M255.43 2716.73L271.6 2722.94L255.43 2729.15M264.2 2722.94L362.2 2722.94M346.03 2716.73L362.2 2722.94L346.03 2729.15M354.8 2722.94L452.8 2722.94M436.63 2716.73L452.8 2722.94L436.63 2729.15M445.4 2722.94L543.4 2722.94M527.23 2716.73L543.4 2722.94L527.23 2729.15M536 2722.94L634 2722.94M617.83 2716.73L634 2722.94L617.83 2729.15M626.6 2722.94L724.6 2722.94M708.43 2716.73L724.6 2722.94L708.43 2729.15M717.2 2722.94L815.2 2722.94M799.03 2716.73L815.2 2722.94L799.03 2729.15M807.8 2722.94L905.8 2722.94M889.63 2716.73L905.8 2722.94L889.63 2729.15M173.6 2771.42L273.6 2771.42M257.1 2765.09L273.6 2771.42L257.1 2777.75M264.2 2771.42L364.2 2771.42M347.7 2765.09L364.2 2771.42L347.7 2777.75M354.8 2771.42L454.8 2771.42M438.3 2765.09L454.8 2771.42L438.3 2777.75M445.4 2771.42L545.4 2771.42M528.9 2765.09L545.4 2771.42L528.9 2777.75M536 2771.42L636 2771.42M619.5 2765.09L636 2771.42L619.5 2777.75M626.6 2771.42L726.6 2771.42M710.1 2765.09L726.6 2771.42L710.1 2777.75M717.2 2771.42L817.2 2771.42M800.7 2765.09L817.2 2771.42L800.7 2777.75M807.8 2771.42L907.8 2771.42M891.3 2765.09L907.8 2771.42L891.3 2777.75M173.6 2819.9L269.6 2819.9M253.76 2813.82L269.6 2819.9L253.76 2825.98M264.2 2819.9L360.2 2819.9M344.36 2813.82L360.2 2819.9L344.36 2825.98M354.8 2819.9L450.8 2819.9M434.96 2813.82L450.8 2819.9L434.96 2825.98M445.4 2819.9L541.4 2819.9M525.56 2813.82L541.4 2819.9L525.56 2825.98M536 2819.9L632 2819.9M616.16 2813.82L632 2819.9L616.16 2825.98M626.6 2819.9L722.6 2819.9M706.76 2813.82L722.6 2819.9L706.76 2825.98M717.2 2819.9L813.2 2819.9M797.36 2813.82L813.2 2819.9L797.36 2825.98M807.8 2819.9L903.8 2819.9M887.96 2813.82L903.8 2819.9L887.96 2825.98M173.6 2868.38L267.6 2868.38M252.09 2862.43L267.6 2868.38L252.09 2874.33M264.2 2868.38L358.2 2868.38M342.69 2862.43L358.2 2868.38L342.69 2874.33M354.8 2868.38L448.8 2868.38M433.29 2862.43L448.8 2868.38L433.29 2874.33M445.4 2868.38L539.4 2868.38M523.89 2862.43L539.4 2868.38L523.89 2874.33M536 2868.38L630 2868.38M614.49 2862.43L630 2868.38L614.49 2874.33M626.6 2868.38L720.6 2868.38M705.09 2862.43L720.6 2868.38L705.09 2874.33M717.2 2868.38L811.2 2868.38M795.69 2862.43L811.2 2868.38L795.69 2874.33M807.8 2868.38L901.8 2868.38M886.29 2862.43L901.8 2868.38L886.29 2874.33M173.6 2916.86L265.6 2916.86M250.42 2911.03L265.6 2916.86L250.42 2922.69M264.2 2916.86L356.2 2916.86M341.02 2911.03L356.2 2916.86L341.02 2922.69M354.8 2916.86L446.8 2916.86M431.62 2911.03L446.8 2916.86L431.62 2922.69M445.4 2916.86L537.4 2916.86M522.22 2911.03L537.4 2916.86L522.22 2922.69M536 2916.86L628 2916.86M612.82 2911.03L628 2916.86L612.82 2922.69M626.6 2916.86L718.6 2916.86M703.42 2911.03L718.6 2916.86L703.42 2922.69M717.2 2916.86L809.2 2916.86M794.02 2911.03L809.2 2916.86L794.02 2922.69M807.8 2916.86L899.8 2916.86M884.62 2911.03L899.8 2916.86L884.62 2922.69M173.6 2965.34L265.6 2965.34M250.42 2959.51L265.6 2965.34L250.42 2971.17M264.2 2965.34L356.2 2965.34M341.02 2959.51L356.2 2965.34L341.02 2971.17M354.8 2965.34L446.8 2965.34M431.62 2959.51L446.8 2965.34L431.62 2971.17M445.4 2965.34L537.4 2965.34M522.22 2959.51L537.4 2965.34L522.22 2971.17M536 2965.34L628 2965.34M612.82 2959.51L628 2965.34L612.82 2971.17M626.6 2965.34L718.6 2965.34M703.42 2959.51L718.6 2965.34L703.42 2971.17M717.2 2965.34L809.2 2965.34M794.02 2959.51L809.2 2965.34L794.02 2971.17M807.8 2965.34L899.8 2965.34M884.62 2959.51L899.8 2965.34L884.62 2971.17M173.6 3013.82L263.6 3013.82M248.75 3008.12L263.6 3013.82L248.75 3019.52M264.2 3013.82L354.2 3013.82M339.35 3008.12L354.2 3013.82L339.35 3019.52M354.8 3013.82L444.8 3013.82M429.95 3008.12L444.8 3013.82L429.95 3019.52M445.4 3013.82L535.4 3013.82M520.55 3008.12L535.4 3013.82L520.55 3019.52M536 3013.82L626 3013.82M611.15 3008.12L626 3013.82L611.15 3019.52M626.6 3013.82L716.6 3013.82M701.75 3008.12L716.6 3013.82L701.75 3019.52M717.2 3013.82L807.2 3013.82M792.35 3008.12L807.2 3013.82L792.35 3019.52M807.8 3013.82L897.8 3013.82M882.95 3008.12L897.8 3013.82L882.95 3019.52M173.6 3061.85L263.6 3062.75M248.81 3056.9L263.6 3062.75L248.69 3068.3M264.2 3061.85L354.2 3062.75M339.41 3056.9L354.2 3062.75L339.29 3068.3M354.8 3061.85L444.8 3062.75M430.01 3056.9L444.8 3062.75L429.89 3068.3M445.4 3061.85L535.4 3062.75M520.61 3056.9L535.4 3062.75L520.49 3068.3M536 3061.85L626 3062.75M611.21 3056.9L626 3062.75L611.09 3068.3M626.6 3061.85L716.6 3062.75M701.81 3056.9L716.6 3062.75L701.69 3068.3M717.2 3061.85L807.2 3062.75M792.41 3056.9L807.2 3062.75L792.29 3068.3M807.8 3061.85L897.8 3062.75M883.01 3056.9L897.8 3062.75L882.89 3068.3M173.6 3110.34L261.6 3111.22M247.14 3105.5L261.6 3111.22L247.02 3116.65M264.2 3110.34L352.2 3111.22M337.74 3105.5L352.2 3111.22L337.62 3116.65M354.8 3110.34L442.8 3111.22M428.34 3105.5L442.8 3111.22L428.22 3116.65M445.4 3110.34L533.4 3111.22M518.94 3105.5L533.4 3111.22L518.82 3116.65M536 3110.34L624 3111.22M609.54 3105.5L624 3111.22L609.42 3116.65M626.6 3110.34L714.6 3111.22M700.14 3105.5L714.6 3111.22L700.02 3116.65M717.2 3110.34L805.2 3111.22M790.74 3105.5L805.2 3111.22L790.62 3116.65M807.8 3110.34L895.8 3111.22M881.34 3105.5L895.8 3111.22L881.22 3116.65M173.6 3158.83L259.6 3159.69M245.46 3154.1L259.6 3159.69L245.36 3165M264.2 3158.83L350.2 3159.69M336.06 3154.1L350.2 3159.69L335.96 3165M354.8 3158.83L440.8 3159.69M426.66 3154.1L440.8 3159.69L426.56 3165M445.4 3158.83L531.4 3159.69M517.26 3154.1L531.4 3159.69L517.16 3165M536 3158.83L622 3159.69M607.86 3154.1L622 3159.69L607.76 3165M626.6 3158.83L712.6 3159.69M698.46 3154.1L712.6 3159.69L698.36 3165M717.2 3158.83L803.2 3159.69M789.06 3154.1L803.2 3159.69L788.96 3165M807.8 3158.83L893.8 3159.69M879.66 3154.1L893.8 3159.69L879.56 3165M173.6 3207.33L255.6 3208.15M242.12 3202.82L255.6 3208.15L242.02 3213.21M264.2 3207.33L346.2 3208.15M332.72 3202.82L346.2 3208.15L332.62 3213.21M354.8 3207.33L436.8 3208.15M423.32 3202.82L436.8 3208.15L423.22 3213.21M445.4 3207.33L527.4 3208.15M513.92 3202.82L527.4 3208.15L513.82 3213.21M536 3207.33L618 3208.15M604.52 3202.82L618 3208.15L604.42 3213.21M626.6 3207.33L708.6 3208.15M695.12 3202.82L708.6 3208.15L695.02 3213.21M717.2 3207.33L799.2 3208.15M785.72 3202.82L799.2 3208.15L785.62 3213.21M807.8 3207.33L889.8 3208.15M876.32 3202.82L889.8 3208.15L876.22 3213.21" fill="none" stroke="#000" stroke-width="2.2" stroke-linejoin="round"/><path d="M287.6 2091.56L268.65 2084.72L272.55 2091.86L268.93 2099.16ZM378.2 2091.56L359.25 2084.72L363.15 2091.86L359.53 2099.16ZM468.8 2091.56L449.85 2084.72L453.75 2091.86L450.13 2099.16ZM559.4 2091.56L540.45 2084.72L544.35 2091.86L540.73 2099.16ZM650 2091.56L631.05 2084.72L634.95 2091.86L631.33 2099.16ZM740.6 2091.56L721.65 2084.72L725.55 2091.86L721.93 2099.16ZM831.2 2091.56L812.25 2084.72L816.15 2091.86L812.53 2099.16ZM921.8 2091.56L902.85 2084.72L906.75 2091.86L903.13 2099.16ZM287.6 2140.04L268.65 2133.2L272.55 2140.34L268.93 2147.64ZM378.2 2140.04L359.25 2133.2L363.15 2140.34L359.53 2147.64ZM468.8 2140.04L449.85 2133.2L453.75 2140.34L450.13 2147.64ZM559.4 2140.04L540.45 2133.2L544.35 2140.34L540.73 2147.64ZM650 2140.04L631.05 2133.2L634.95 2140.34L631.33 2147.64ZM740.6 2140.04L721.65 2133.2L725.55 2140.34L721.93 2147.64ZM831.2 2140.04L812.25 2133.2L816.15 2140.34L812.53 2147.64ZM921.8 2140.04L902.85 2133.2L906.75 2140.34L903.13 2147.64ZM287.6 2188.52L268.65 2181.68L272.55 2188.82L268.93 2196.12ZM378.2 2188.52L359.25 2181.68L363.15 2188.82L359.53 2196.12ZM468.8 2188.52L449.85 2181.68L453.75 2188.82L450.13 2196.12ZM559.4 2188.52L540.45 2181.68L544.35 2188.82L540.73 2196.12ZM650 2188.52L631.05 2181.68L634.95 2188.82L631.33 2196.12ZM740.6 2188.52L721.65 2181.68L725.55 2188.82L721.93 2196.12ZM831.2 2188.52L812.25 2181.68L816.15 2188.82L812.53 2196.12ZM921.8 2188.52L902.85 2181.68L906.75 2188.82L903.13 2196.12ZM284.6 2237.03L266.14 2230.37L269.95 2237.32L266.43 2244.43ZM375.2 2237.03L356.74 2230.37L360.55 2237.32L357.03 2244.43ZM465.8 2237.03L447.34 2230.37L451.15 2237.32L447.63 2244.43ZM556.4 2237.03L537.94 2230.37L541.75 2237.32L538.23 2244.43ZM647 2237.03L628.54 2230.37L632.35 2237.32L628.83 2244.43ZM737.6 2237.03L719.14 2230.37L722.95 2237.32L719.43 2244.43ZM828.2 2237.03L809.74 2230.37L813.55 2237.32L810.03 2244.43ZM918.8 2237.03L900.34 2230.37L904.15 2237.32L900.63 2244.43ZM287.6 2285.48L268.65 2278.64L272.55 2285.78L268.93 2293.08ZM378.2 2285.48L359.25 2278.64L363.15 2285.78L359.53 2293.08ZM468.8 2285.48L449.85 2278.64L453.75 2285.78L450.13 2293.08ZM559.4 2285.48L540.45 2278.64L544.35 2285.78L540.73 2293.08ZM650 2285.48L631.05 2278.64L634.95 2285.78L631.33 2293.08ZM740.6 2285.48L721.65 2278.64L725.55 2285.78L721.93 2293.08ZM831.2 2285.48L812.25 2278.64L816.15 2285.78L812.53 2293.08ZM921.8 2285.48L902.85 2278.64L906.75 2285.78L903.13 2293.08ZM287.6 2333.96L268.65 2327.12L272.55 2334.26L268.93 2341.56ZM378.2 2333.96L359.25 2327.12L363.15 2334.26L359.53 2341.56ZM468.8 2333.96L449.85 2327.12L453.75 2334.26L450.13 2341.56ZM559.4 2333.96L540.45 2327.12L544.35 2334.26L540.73 2341.56ZM650 2333.96L631.05 2327.12L634.95 2334.26L631.33 2341.56ZM740.6 2333.96L721.65 2327.12L725.55 2334.26L721.93 2341.56ZM831.2 2333.96L812.25 2327.12L816.15 2334.26L812.53 2341.56ZM921.8 2333.96L902.85 2327.12L906.75 2334.26L903.13 2341.56ZM281.6 2382.5L263.64 2376.02L267.34 2382.79L263.92 2389.7ZM372.2 2382.5L354.24 2376.02L357.94 2382.79L354.52 2389.7ZM462.8 2382.5L444.84 2376.02L448.54 2382.79L445.12 2389.7ZM553.4 2382.5L535.44 2376.02L539.14 2382.79L535.72 2389.7ZM644 2382.5L626.04 2376.02L629.74 2382.79L626.32 2389.7ZM734.6 2382.5L716.64 2376.02L720.34 2382.79L716.92 2389.7ZM825.2 2382.5L807.24 2376.02L810.94 2382.79L807.52 2389.7ZM915.8 2382.5L897.84 2376.02L901.54 2382.79L898.12 2389.7ZM283.6 2430.96L265.31 2424.36L269.08 2431.25L265.59 2438.29ZM374.2 2430.96L355.91 2424.36L359.68 2431.25L356.19 2438.29ZM464.8 2430.96L446.51 2424.36L450.28 2431.25L446.79 2438.29ZM555.4 2430.96L537.11 2424.36L540.88 2431.25L537.39 2438.29ZM646 2430.96L627.71 2424.36L631.48 2431.25L627.99 2438.29ZM736.6 2430.96L718.31 2424.36L722.08 2431.25L718.59 2438.29ZM827.2 2430.96L808.91 2424.36L812.68 2431.25L809.19 2438.29ZM917.8 2430.96L899.51 2424.36L903.28 2431.25L899.79 2438.29ZM278.6 2479.49L261.14 2473.19L264.74 2479.77L261.41 2486.49ZM369.2 2479.49L351.74 2473.19L355.34 2479.77L352.01 2486.49ZM459.8 2479.49L442.34 2473.19L445.94 2479.77L442.61 2486.49ZM550.4 2479.49L532.94 2473.19L536.54 2479.77L533.21 2486.49ZM641 2479.49L623.54 2473.19L627.14 2479.77L623.81 2486.49ZM731.6 2479.49L714.14 2473.19L717.74 2479.77L714.41 2486.49ZM822.2 2479.49L804.74 2473.19L808.34 2479.77L805.01 2486.49ZM912.8 2479.49L895.34 2473.19L898.94 2479.77L895.61 2486.49ZM277.6 2527.98L260.31 2521.74L263.87 2528.25L260.57 2534.91ZM368.2 2527.98L350.91 2521.74L354.47 2528.25L351.17 2534.91ZM458.8 2527.98L441.51 2521.74L445.07 2528.25L441.77 2534.91ZM549.4 2527.98L532.11 2521.74L535.67 2528.25L532.37 2534.91ZM640 2527.98L622.71 2521.74L626.27 2528.25L622.97 2534.91ZM730.6 2527.98L713.31 2521.74L716.87 2528.25L713.57 2534.91ZM821.2 2527.98L803.91 2521.74L807.47 2528.25L804.17 2534.91ZM911.8 2527.98L894.51 2521.74L898.07 2528.25L894.77 2534.91ZM278.6 2577.5L261.28 2570.85L264.74 2577.5L261.28 2584.15ZM369.2 2577.5L351.88 2570.85L355.34 2577.5L351.88 2584.15ZM459.8 2577.5L442.47 2570.85L445.94 2577.5L442.47 2584.15ZM550.4 2577.5L533.07 2570.85L536.54 2577.5L533.07 2584.15ZM641 2577.5L623.67 2570.85L627.14 2577.5L623.67 2584.15ZM731.6 2577.5L714.27 2570.85L717.74 2577.5L714.27 2584.15ZM822.2 2577.5L804.87 2570.85L808.34 2577.5L804.87 2584.15ZM912.8 2577.5L895.47 2570.85L898.94 2577.5L895.47 2584.15ZM276.6 2625.98L259.61 2619.46L263 2625.98L259.61 2632.5ZM367.2 2625.98L350.2 2619.46L353.6 2625.98L350.2 2632.5ZM457.8 2625.98L440.8 2619.46L444.2 2625.98L440.8 2632.5ZM548.4 2625.98L531.4 2619.46L534.8 2625.98L531.4 2632.5ZM639 2625.98L622 2619.46L625.4 2625.98L622 2632.5ZM729.6 2625.98L712.61 2619.46L716 2625.98L712.61 2632.5ZM820.2 2625.98L803.2 2619.46L806.6 2625.98L803.2 2632.5ZM910.8 2625.98L893.8 2619.46L897.2 2625.98L893.8 2632.5ZM275.6 2674.46L258.77 2668L262.14 2674.46L258.77 2680.92ZM366.2 2674.46L349.37 2668L352.74 2674.46L349.37 2680.92ZM456.8 2674.46L439.97 2668L443.34 2674.46L439.97 2680.92ZM547.4 2674.46L530.57 2668L533.94 2674.46L530.57 2680.92ZM638 2674.46L621.17 2668L624.54 2674.46L621.17 2680.92ZM728.6 2674.46L711.77 2668L715.14 2674.46L711.77 2680.92ZM819.2 2674.46L802.37 2668L805.74 2674.46L802.37 2680.92ZM909.8 2674.46L892.97 2668L896.34 2674.46L892.97 2680.92ZM271.6 2722.94L255.43 2716.73L258.66 2722.94L255.43 2729.15ZM362.2 2722.94L346.03 2716.73L349.26 2722.94L346.03 2729.15ZM452.8 2722.94L436.63 2716.73L439.86 2722.94L436.63 2729.15ZM543.4 2722.94L527.23 2716.73L530.46 2722.94L527.23 2729.15ZM634 2722.94L617.83 2716.73L621.06 2722.94L617.83 2729.15ZM724.6 2722.94L708.43 2716.73L711.66 2722.94L708.43 2729.15ZM815.2 2722.94L799.03 2716.73L802.26 2722.94L799.03 2729.15ZM905.8 2722.94L889.63 2716.73L892.86 2722.94L889.63 2729.15ZM273.6 2771.42L257.1 2765.09L260.4 2771.42L257.1 2777.75ZM364.2 2771.42L347.7 2765.09L351 2771.42L347.7 2777.75ZM454.8 2771.42L438.3 2765.09L441.6 2771.42L438.3 2777.75ZM545.4 2771.42L528.9 2765.09L532.2 2771.42L528.9 2777.75ZM636 2771.42L619.5 2765.09L622.8 2771.42L619.5 2777.75ZM726.6 2771.42L710.1 2765.09L713.4 2771.42L710.1 2777.75ZM817.2 2771.42L800.7 2765.09L804 2771.42L800.7 2777.75ZM907.8 2771.42L891.3 2765.09L894.6 2771.42L891.3 2777.75ZM269.6 2819.9L253.76 2813.82L256.93 2819.9L253.76 2825.98ZM360.2 2819.9L344.36 2813.82L347.53 2819.9L344.36 2825.98ZM450.8 2819.9L434.96 2813.82L438.13 2819.9L434.96 2825.98ZM541.4 2819.9L525.56 2813.82L528.73 2819.9L525.56 2825.98ZM632 2819.9L616.16 2813.82L619.33 2819.9L616.16 2825.98ZM722.6 2819.9L706.76 2813.82L709.93 2819.9L706.76 2825.98ZM813.2 2819.9L797.36 2813.82L800.53 2819.9L797.36 2825.98ZM903.8 2819.9L887.96 2813.82L891.13 2819.9L887.96 2825.98ZM267.6 2868.38L252.09 2862.43L255.19 2868.38L252.09 2874.33ZM358.2 2868.38L342.69 2862.43L345.79 2868.38L342.69 2874.33ZM448.8 2868.38L433.29 2862.43L436.39 2868.38L433.29 2874.33ZM539.4 2868.38L523.89 2862.43L526.99 2868.38L523.89 2874.33ZM630 2868.38L614.49 2862.43L617.59 2868.38L614.49 2874.33ZM720.6 2868.38L705.09 2862.43L708.19 2868.38L705.09 2874.33ZM811.2 2868.38L795.69 2862.43L798.79 2868.38L795.69 2874.33ZM901.8 2868.38L886.29 2862.43L889.39 2868.38L886.29 2874.33ZM265.6 2916.86L250.42 2911.03L253.46 2916.86L250.42 2922.69ZM356.2 2916.86L341.02 2911.03L344.06 2916.86L341.02 2922.69ZM446.8 2916.86L431.62 2911.03L434.66 2916.86L431.62 2922.69ZM537.4 2916.86L522.22 2911.03L525.26 2916.86L522.22 2922.69ZM628 2916.86L612.82 2911.03L615.86 2916.86L612.82 2922.69ZM718.6 2916.86L703.42 2911.03L706.46 2916.86L703.42 2922.69ZM809.2 2916.86L794.02 2911.03L797.06 2916.86L794.02 2922.69ZM899.8 2916.86L884.62 2911.03L887.66 2916.86L884.62 2922.69ZM265.6 2965.34L250.42 2959.51L253.46 2965.34L250.42 2971.17ZM356.2 2965.34L341.02 2959.51L344.06 2965.34L341.02 2971.17ZM446.8 2965.34L431.62 2959.51L434.66 2965.34L431.62 2971.17ZM537.4 2965.34L522.22 2959.51L525.26 2965.34L522.22 2971.17ZM628 2965.34L612.82 2959.51L615.86 2965.34L612.82 2971.17ZM718.6 2965.34L703.42 2959.51L706.46 2965.34L703.42 2971.17ZM809.2 2965.34L794.02 2959.51L797.06 2965.34L794.02 2971.17ZM899.8 2965.34L884.62 2959.51L887.66 2965.34L884.62 2971.17ZM263.6 3013.82L248.75 3008.12L251.72 3013.82L248.75 3019.52ZM354.2 3013.82L339.35 3008.12L342.32 3013.82L339.35 3019.52ZM444.8 3013.82L429.95 3008.12L432.92 3013.82L429.95 3019.52ZM535.4 3013.82L520.55 3008.12L523.52 3013.82L520.55 3019.52ZM626 3013.82L611.15 3008.12L614.12 3013.82L611.15 3019.52ZM716.6 3013.82L701.75 3008.12L704.72 3013.82L701.75 3019.52ZM807.2 3013.82L792.35 3008.12L795.32 3013.82L792.35 3019.52ZM897.8 3013.82L882.95 3008.12L885.92 3013.82L882.95 3019.52ZM263.6 3062.75L248.81 3056.9L251.72 3062.63L248.69 3068.3ZM354.2 3062.75L339.41 3056.9L342.32 3062.63L339.29 3068.3ZM444.8 3062.75L430.01 3056.9L432.92 3062.63L429.89 3068.3ZM535.4 3062.75L520.61 3056.9L523.52 3062.63L520.49 3068.3ZM626 3062.75L611.21 3056.9L614.12 3062.63L611.09 3068.3ZM716.6 3062.75L701.81 3056.9L704.72 3062.63L701.69 3068.3ZM807.2 3062.75L792.41 3056.9L795.32 3062.63L792.29 3068.3ZM897.8 3062.75L883.01 3056.9L885.92 3062.63L882.89 3068.3ZM261.6 3111.22L247.14 3105.5L249.98 3111.1L247.02 3116.65ZM352.2 3111.22L337.74 3105.5L340.58 3111.1L337.62 3116.65ZM442.8 3111.22L428.34 3105.5L431.18 3111.1L428.22 3116.65ZM533.4 3111.22L518.94 3105.5L521.78 3111.1L518.82 3116.65ZM624 3111.22L609.54 3105.5L612.38 3111.1L609.42 3116.65ZM714.6 3111.22L700.14 3105.5L702.98 3111.1L700.02 3116.65ZM805.2 3111.22L790.74 3105.5L793.58 3111.1L790.62 3116.65ZM895.8 3111.22L881.34 3105.5L884.18 3111.1L881.22 3116.65ZM259.6 3159.69L245.46 3154.1L248.25 3159.58L245.36 3165ZM350.2 3159.69L336.06 3154.1L338.85 3159.58L335.96 3165ZM440.8 3159.69L426.66 3154.1L429.45 3159.58L426.56 3165ZM531.4 3159.69L517.26 3154.1L520.05 3159.58L517.16 3165ZM622 3159.69L607.86 3154.1L610.65 3159.58L607.76 3165ZM712.6 3159.69L698.46 3154.1L701.25 3159.58L698.36 3165ZM803.2 3159.69L789.06 3154.1L791.85 3159.58L788.96 3165ZM893.8 3159.69L879.66 3154.1L882.45 3159.58L879.56 3165ZM255.6 3208.15L242.12 3202.82L244.78 3208.04L242.02 3213.21ZM346.2 3208.15L332.72 3202.82L335.38 3208.04L332.62 3213.21ZM436.8 3208.15L423.32 3202.82L425.98 3208.04L423.22 3213.21ZM527.4 3208.15L513.92 3202.82L516.58 3208.04L513.82 3213.21ZM618 3208.15L604.52 3202.82L607.18 3208.04L604.42 3213.21ZM708.6 3208.15L695.12 3202.82L697.78 3208.04L695.02 3213.21ZM799.2 3208.15L785.72 3202.82L788.38 3208.04L785.62 3213.21ZM889.8 3208.15L876.32 3202.82L878.98 3208.04L876.22 3213.21Z" fill="#000" fill-opacity="0.4"/></g></g>
<path d="M246.4 3195.15H268M246.4 3136.3H268M246.4 3077.45H268M246.4 2959.75H268M246.4 2900.9H268M246.4 2842.05H268M246.4 2724.35H268M246.4 2665.5H268M246.4 2606.65H268M246.4 2488.95H268M246.4 2430.1H268M246.4 2371.25H268M246.4 2253.55H268M246.4 2194.7H268M246.4 2135.85H268M361.22 3217V3240.5M478.64 3217V3240.5M596.06 3217V3240.5M713.48 3217V3240.5" fill="none" stroke="#000" stroke-width="1.6"/>
<path d="M246.4 3018.6H284.5M246.4 2783.2H284.5M246.4 2547.8H284.5M246.4 2312.4H284.5M246.4 2077H284.5" fill="none" stroke="#000" stroke-width="8"/>
<path d="M831.3 3202V3240.5" fill="none" stroke="#000" stroke-width="7"/>
<rect x="238.7" y="2020.3" width="8.7" height="1227.2" fill="#000"/>
<rect x="238.7" y="3239.5" width="659.9" height="8" fill="#000"/>
<text x="217.6" y="3041.2" font-family="'Liberation Sans', Arial, Helvetica, sans-serif" font-size="66" stroke="#fff" stroke-width="0.5" text-anchor="end">20</text>
<text x="217.6" y="2805.8" font-family="'Liberation Sans', Arial, Helvetica, sans-serif" font-size="66" stroke="#fff" stroke-width="0.5" text-anchor="end">40</text>
<text x="217.6" y="2570.4" font-family="'Liberation Sans', Arial, Helvetica, sans-serif" font-size="66" stroke="#fff" stroke-width="0.5" text-anchor="end">60</text>
<text x="217.6" y="2335" font-family="'Liberation Sans', Arial, Helvetica, sans-serif" font-size="66" stroke="#fff" stroke-width="0.5" text-anchor="end">80</text>
<text x="217.6" y="2099.6" font-family="'Liberation Sans', Arial, Helvetica, sans-serif" font-size="66" stroke="#fff" stroke-width="0.5" text-anchor="end" textLength="106" lengthAdjust="spacingAndGlyphs">100</text>
<text x="241" y="3308" font-family="'Liberation Sans', Arial, Helvetica, sans-serif" font-size="64.5" stroke="#fff" stroke-width="0.5" text-anchor="middle">0</text>
<text x="830" y="3308" font-family="'Liberation Sans', Arial, Helvetica, sans-serif" font-size="64.5" stroke="#fff" stroke-width="0.5" text-anchor="middle">50</text>
<text x="694.2" y="3387.5" font-family="'Liberation Sans', Arial, Helvetica, sans-serif" font-weight="700" font-size="76" text-anchor="middle">x[mm]</text>
<text transform="translate(100 2428.6) rotate(-90)" font-family="'Liberation Sans', Arial, Helvetica, sans-serif" font-weight="700" font-size="76" text-anchor="middle">y[mm]</text>
</g>
<g id="panel-b">
<rect x="1480.8" y="465.3" width="591.2" height="1017" fill="url(#f0_0)"/>
<rect x="1483.8" y="465.3" width="588.2" height="1017" fill="url(#f0_1)" mask="url(#m0_1)"/>
<rect x="1532.82" y="465.3" width="539.18" height="1017" fill="url(#f0_2)" mask="url(#m0_2)"/>
<rect x="1581.83" y="465.3" width="490.17" height="1017" fill="url(#f0_3)" mask="url(#m0_3)"/>
<rect x="1630.85" y="465.3" width="441.15" height="1017" fill="url(#f0_4)" mask="url(#m0_4)"/>
<rect x="1679.87" y="465.3" width="392.13" height="1017" fill="url(#f0_5)" mask="url(#m0_5)"/>
<rect x="1728.88" y="465.3" width="343.12" height="1017" fill="url(#f0_6)" mask="url(#m0_6)"/>
<rect x="1777.9" y="465.3" width="294.1" height="1017" fill="url(#f0_7)" mask="url(#m0_7)"/>
<rect x="1826.92" y="465.3" width="245.08" height="1017" fill="url(#f0_8)" mask="url(#m0_8)"/>
<rect x="1875.93" y="465.3" width="196.07" height="1017" fill="url(#f0_9)" mask="url(#m0_9)"/>
<rect x="1924.95" y="465.3" width="147.05" height="1017" fill="url(#f0_10)" mask="url(#m0_10)"/>
<rect x="1973.97" y="465.3" width="98.03" height="1017" fill="url(#f0_11)" mask="url(#m0_11)"/>
<rect x="2022.98" y="465.3" width="49.02" height="1017" fill="url(#f0_12)" mask="url(#m0_12)"/>
<g clip-path="url(#clipf0)"><g><path d="M1385.95 508.09L1472.05 505.51M1457.68 500.48L1472.05 505.51L1458.01 511.39M1505 508.09L1591.1 505.51M1576.73 500.48L1591.1 505.51L1577.06 511.39M1624.05 508.13L1712.55 505.47M1697.78 500.31L1712.55 505.47L1698.12 511.52M1743.1 508.09L1829.2 505.51M1814.83 500.48L1829.2 505.51L1815.16 511.39M1862.15 508.02L1943.45 505.58M1929.88 500.83L1943.45 505.58L1930.19 511.13M1981.2 508.06L2065.3 505.54M2051.26 500.63L2065.3 505.54L2051.58 511.28M1385.95 567.89L1472.05 565.31M1457.68 560.28L1472.05 565.31L1458.01 571.19M1505 567.89L1591.1 565.31M1576.73 560.28L1591.1 565.31L1577.06 571.19M1624.05 567.9L1710.55 565.3M1696.11 560.25L1710.55 565.3L1696.44 571.21M1743.1 567.86L1827.2 565.34M1813.16 560.43L1827.2 565.34L1813.48 571.08M1862.15 567.85L1945.45 565.35M1931.55 560.49L1945.45 565.35L1931.86 571.04M1981.2 567.86L2065.3 565.34M2051.26 560.43L2065.3 565.34L2051.58 571.08M1385.95 627.66L1470.05 625.14M1456.01 620.23L1470.05 625.14L1456.33 630.88M1505 627.66L1589.1 625.14M1575.06 620.23L1589.1 625.14L1575.38 630.88M1624.05 627.69L1709.75 625.11M1695.45 620.11L1709.75 625.11L1695.77 630.97M1743.1 627.66L1827.2 625.14M1813.16 620.23L1827.2 625.14L1813.48 630.88M1862.15 627.62L1943.45 625.18M1929.88 620.43L1943.45 625.18L1930.19 630.73M1981.2 627.66L2065.3 625.14M2051.26 620.23L2065.3 625.14L2051.58 630.88M1385.95 687.46L1470.05 684.94M1456.01 680.03L1470.05 684.94L1456.33 690.68M1505 687.46L1589.1 684.94M1575.06 680.03L1589.1 684.94L1575.38 690.68M1624.05 687.45L1707.35 684.95M1693.45 680.09L1707.35 684.95L1693.76 690.64M1743.1 687.42L1824.4 684.98M1810.83 680.23L1824.4 684.98L1811.14 690.53M1862.15 687.38L1940.65 685.02M1927.55 680.44L1940.65 685.02L1927.85 690.38M1981.2 687.43L2063.3 684.97M2049.6 680.17L2063.3 684.97L2049.91 690.57M1385.95 747.22L1467.25 744.78M1453.68 740.03L1467.25 744.78L1453.99 750.33M1505 747.22L1586.3 744.78M1572.73 740.03L1586.3 744.78L1573.04 750.33M1624.05 747.25L1707.35 744.75M1693.45 739.89L1707.35 744.75L1693.76 750.44M1743.1 747.22L1824.4 744.78M1810.83 740.03L1824.4 744.78L1811.14 750.33M1862.15 747.21L1942.65 744.79M1929.21 740.09L1942.65 744.79L1929.52 750.29M1981.2 747.23L2063.3 744.77M2049.6 739.97L2063.3 744.77L2049.91 750.37M1385.95 807.02L1467.25 804.58M1453.68 799.83L1467.25 804.58L1453.99 810.13M1505 807.02L1586.3 804.58M1572.73 799.83L1586.3 804.58L1573.04 810.13M1624.05 807.03L1705.75 804.57M1692.11 799.8L1705.75 804.57L1692.42 810.15M1743.1 806.98L1822 804.62M1808.83 800.01L1822 804.62L1809.13 810M1862.15 806.98L1940.65 804.62M1927.55 800.04L1940.65 804.62L1927.85 809.98M1981.2 806.99L2060.5 804.61M2047.26 799.98L2060.5 804.61L2047.57 810.03M1385.95 866.79L1465.25 864.41M1452.01 859.78L1465.25 864.41L1452.32 869.83M1505 866.79L1584.3 864.41M1571.06 859.78L1584.3 864.41L1571.37 869.83M1624.05 866.81L1704.55 864.39M1691.11 859.69L1704.55 864.39L1691.42 869.89M1743.1 866.78L1822 864.42M1808.83 859.81L1822 864.42L1809.13 869.8M1862.15 866.74L1938.25 864.46M1925.55 860.02L1938.25 864.46L1925.84 869.66M1981.2 866.79L2060.5 864.41M2047.26 859.78L2060.5 864.41L2047.57 869.83M1385.95 926.56L1463.25 924.24M1450.35 919.73L1463.25 924.24L1450.64 929.52M1505 926.56L1582.3 924.24M1569.4 919.73L1582.3 924.24L1569.69 929.52M1624.05 926.58L1702.55 924.22M1689.45 919.64L1702.55 924.22L1689.75 929.58M1743.1 926.55L1820 924.25M1807.17 919.76L1820 924.25L1807.46 929.5M1862.15 926.54L1938.25 924.26M1925.55 919.82L1938.25 924.26L1925.84 929.46M1981.2 926.59L2060.5 924.21M2047.26 919.58L2060.5 924.21L2047.57 929.63M1385.95 985.2L1463.25 985.2M1450.5 980.3L1463.25 985.2L1450.5 990.1M1505 985.2L1582.3 985.2M1569.55 980.3L1582.3 985.2L1569.55 990.1M1624.05 985.2L1698.55 985.2M1686.26 980.48L1698.55 985.2L1686.26 989.92M1743.1 985.2L1816 985.2M1803.97 980.58L1816 985.2L1803.97 989.82M1862.15 985.2L1934.25 985.2M1922.35 980.63L1934.25 985.2L1922.35 989.77M1981.2 985.2L2058.5 985.2M2045.75 980.3L2058.5 985.2L2045.75 990.1M1385.95 1045L1463.25 1045M1450.5 1040.1L1463.25 1045L1450.5 1049.9M1505 1045L1582.3 1045M1569.55 1040.1L1582.3 1045L1569.55 1049.9M1624.05 1045L1698.55 1045M1686.26 1040.28L1698.55 1045L1686.26 1049.72M1743.1 1045L1817.2 1045M1804.97 1040.31L1817.2 1045L1804.97 1049.69M1862.15 1045L1933.45 1045M1921.69 1040.48L1933.45 1045L1921.69 1049.52M1981.2 1045L2053.7 1045M2041.74 1040.41L2053.7 1045L2041.74 1049.59M1385.95 1104.8L1458.45 1104.8M1446.49 1100.21L1458.45 1104.8L1446.49 1109.39M1505 1104.8L1577.5 1104.8M1565.54 1100.21L1577.5 1104.8L1565.54 1109.39M1624.05 1104.8L1698.55 1104.8M1686.26 1100.08L1698.55 1104.8L1686.26 1109.52M1743.1 1104.8L1816 1104.8M1803.97 1100.18L1816 1104.8L1803.97 1109.42M1862.15 1104.8L1931.45 1104.8M1920.02 1100.41L1931.45 1104.8L1920.02 1109.19M1981.2 1104.8L2051.7 1104.8M2040.07 1100.33L2051.7 1104.8L2040.07 1109.27M1385.95 1164.6L1454.05 1164.6M1442.81 1160.29L1454.05 1164.6L1442.81 1168.91M1505 1164.6L1573.1 1164.6M1561.86 1160.29L1573.1 1164.6L1561.86 1168.91M1624.05 1164.6L1695.75 1164.6M1683.92 1160.06L1695.75 1164.6L1683.92 1169.14M1743.1 1164.6L1813.2 1164.6M1801.63 1160.16L1813.2 1164.6L1801.63 1169.04M1862.15 1164.6L1929.45 1164.6M1918.35 1160.34L1929.45 1164.6L1918.35 1168.86M1981.2 1164.6L2047.3 1164.6M2036.39 1160.41L2047.3 1164.6L2036.39 1168.79M1385.95 1224.4L1451.25 1224.4M1440.48 1220.26L1451.25 1224.4L1440.48 1228.54M1505 1224.4L1570.3 1224.4M1559.53 1220.26L1570.3 1224.4L1559.53 1228.54M1624.05 1224.4L1693.75 1224.4M1682.25 1219.99L1693.75 1224.4L1682.25 1228.81M1743.1 1224.4L1811.2 1224.4M1799.96 1220.09L1811.2 1224.4L1799.96 1228.71M1862.15 1224.4L1922.65 1224.4M1912.67 1220.57L1922.65 1224.4L1912.67 1228.23M1981.2 1224.4L2042.5 1224.4M2032.39 1220.52L2042.5 1224.4L2032.39 1228.28M1385.95 1284.2L1447.25 1284.2M1437.14 1280.32L1447.25 1284.2L1437.14 1288.08M1505 1284.2L1566.3 1284.2M1556.19 1280.32L1566.3 1284.2L1556.19 1288.08M1624.05 1284.2L1689.35 1284.2M1678.58 1280.06L1689.35 1284.2L1678.58 1288.34M1743.1 1284.2L1808.4 1284.2M1797.63 1280.06L1808.4 1284.2L1797.63 1288.34M1862.15 1284.2L1920.65 1284.2M1911 1280.49L1920.65 1284.2L1911 1287.91M1981.2 1284.2L2040.5 1284.2M2030.72 1280.44L2040.5 1284.2L2030.72 1287.96M1385.95 1343.71L1444.45 1344.29M1434.83 1340.49L1444.45 1344.29L1434.76 1347.9M1505 1343.71L1563.5 1344.29M1553.88 1340.49L1563.5 1344.29L1553.81 1347.9M1624.05 1343.7L1684.55 1344.3M1674.61 1340.37L1684.55 1344.3L1674.53 1348.03M1743.1 1343.72L1799.2 1344.28M1789.98 1340.63L1799.2 1344.28L1789.91 1347.74M1862.15 1343.74L1913.45 1344.26M1905.02 1340.92L1913.45 1344.26L1904.95 1347.42M1981.2 1343.76L2029.3 1344.24M2021.39 1341.11L2029.3 1344.24L2021.33 1347.21M1385.95 1403.56L1433.25 1404.04M1425.48 1400.96L1433.25 1404.04L1425.42 1406.95M1505 1403.56L1552.3 1404.04M1544.53 1400.96L1552.3 1404.04L1544.47 1406.95M1624.05 1403.55L1673.35 1404.05M1665.25 1400.84L1673.35 1404.05L1665.18 1407.09M1743.1 1403.55L1793.2 1404.05M1784.97 1400.79L1793.2 1404.05L1784.9 1407.14M1862.15 1403.6L1901.35 1404M1894.91 1401.45L1901.35 1404L1894.86 1406.41M1981.2 1403.62L2017.6 1403.98M2011.62 1401.62L2017.6 1403.98L2011.57 1406.23M1385.95 1464.7L1410.35 1462.5M1406.18 1461.32L1410.35 1462.5L1406.46 1464.41M1505 1464.7L1529.4 1462.5M1525.23 1461.32L1529.4 1462.5L1525.51 1464.41M1624.05 1464.97L1654.45 1462.23M1649.26 1460.76L1654.45 1462.23L1649.61 1464.61M1743.1 1465.04L1775.1 1462.16M1769.64 1460.61L1775.1 1462.16L1770 1464.66M1862.15 1464.97L1892.55 1462.23M1887.36 1460.76L1892.55 1462.23L1887.71 1464.61M1981.2 1464.91L2010.4 1462.29M2005.42 1460.87L2010.4 1462.29L2005.75 1464.57" fill="none" stroke="#000" stroke-width="2.5" stroke-linejoin="round"/><path d="M1472.05 505.51L1457.68 500.48L1460.68 505.85L1458.01 511.39ZM1591.1 505.51L1576.73 500.48L1579.73 505.85L1577.06 511.39ZM1712.55 505.47L1697.78 500.31L1700.87 505.82L1698.12 511.52ZM1829.2 505.51L1814.83 500.48L1817.83 505.85L1815.16 511.39ZM1943.45 505.58L1929.88 500.83L1932.72 505.9L1930.19 511.13ZM2065.3 505.54L2051.26 500.63L2054.2 505.87L2051.58 511.28ZM1472.05 565.31L1457.68 560.28L1460.68 565.65L1458.01 571.19ZM1591.1 565.31L1576.73 560.28L1579.73 565.65L1577.06 571.19ZM1710.55 565.3L1696.11 560.25L1699.13 565.65L1696.44 571.21ZM1827.2 565.34L1813.16 560.43L1816.1 565.67L1813.48 571.08ZM1945.45 565.35L1931.55 560.49L1934.45 565.68L1931.86 571.04ZM2065.3 565.34L2051.26 560.43L2054.2 565.67L2051.58 571.08ZM1470.05 625.14L1456.01 620.23L1458.95 625.47L1456.33 630.88ZM1589.1 625.14L1575.06 620.23L1578 625.47L1575.38 630.88ZM1709.75 625.11L1695.45 620.11L1698.44 625.45L1695.77 630.97ZM1827.2 625.14L1813.16 620.23L1816.1 625.47L1813.48 630.88ZM1943.45 625.18L1929.88 620.43L1932.72 625.5L1930.19 630.73ZM2065.3 625.14L2051.26 620.23L2054.2 625.47L2051.58 630.88ZM1470.05 684.94L1456.01 680.03L1458.95 685.27L1456.33 690.68ZM1589.1 684.94L1575.06 680.03L1578 685.27L1575.38 690.68ZM1707.35 684.95L1693.45 680.09L1696.35 685.28L1693.76 690.64ZM1824.4 684.98L1810.83 680.23L1813.67 685.3L1811.14 690.53ZM1940.65 685.02L1927.55 680.44L1930.29 685.33L1927.85 690.38ZM2063.3 684.97L2049.6 680.17L2052.46 685.29L2049.91 690.57ZM1467.25 744.78L1453.68 740.03L1456.52 745.1L1453.99 750.33ZM1586.3 744.78L1572.73 740.03L1575.57 745.1L1573.04 750.33ZM1707.35 744.75L1693.45 739.89L1696.35 745.08L1693.76 750.44ZM1824.4 744.78L1810.83 740.03L1813.67 745.1L1811.14 750.33ZM1942.65 744.79L1929.21 740.09L1932.02 745.11L1929.52 750.29ZM2063.3 744.77L2049.6 739.97L2052.46 745.09L2049.91 750.37ZM1467.25 804.58L1453.68 799.83L1456.52 804.9L1453.99 810.13ZM1586.3 804.58L1572.73 799.83L1575.57 804.9L1573.04 810.13ZM1705.75 804.57L1692.11 799.8L1694.97 804.9L1692.42 810.15ZM1822 804.62L1808.83 800.01L1811.59 804.93L1809.13 810ZM1940.65 804.62L1927.55 800.04L1930.29 804.93L1927.85 809.98ZM2060.5 804.61L2047.26 799.98L2050.03 804.92L2047.57 810.03ZM1465.25 864.41L1452.01 859.78L1454.78 864.72L1452.32 869.83ZM1584.3 864.41L1571.06 859.78L1573.83 864.72L1571.37 869.83ZM1704.55 864.39L1691.11 859.69L1693.92 864.71L1691.42 869.89ZM1822 864.42L1808.83 859.81L1811.59 864.73L1809.13 869.8ZM1938.25 864.46L1925.55 860.02L1928.2 864.76L1925.84 869.66ZM2060.5 864.41L2047.26 859.78L2050.03 864.72L2047.57 869.83ZM1463.25 924.24L1450.35 919.73L1453.05 924.55L1450.64 929.52ZM1582.3 924.24L1569.4 919.73L1572.1 924.55L1569.69 929.52ZM1702.55 924.22L1689.45 919.64L1692.19 924.53L1689.75 929.58ZM1820 924.25L1807.17 919.76L1809.85 924.55L1807.46 929.5ZM1938.25 924.26L1925.55 919.82L1928.2 924.56L1925.84 929.46ZM2060.5 924.21L2047.26 919.58L2050.03 924.52L2047.57 929.63ZM1463.25 985.2L1450.5 980.3L1453.05 985.2L1450.5 990.1ZM1582.3 985.2L1569.55 980.3L1572.1 985.2L1569.55 990.1ZM1698.55 985.2L1686.26 980.48L1688.72 985.2L1686.26 989.92ZM1816 985.2L1803.97 980.58L1806.38 985.2L1803.97 989.82ZM1934.25 985.2L1922.35 980.63L1924.73 985.2L1922.35 989.77ZM2058.5 985.2L2045.75 980.3L2048.3 985.2L2045.75 990.1ZM1463.25 1045L1450.5 1040.1L1453.05 1045L1450.5 1049.9ZM1582.3 1045L1569.55 1040.1L1572.1 1045L1569.55 1049.9ZM1698.55 1045L1686.26 1040.28L1688.72 1045L1686.26 1049.72ZM1817.2 1045L1804.97 1040.31L1807.42 1045L1804.97 1049.69ZM1933.45 1045L1921.69 1040.48L1924.04 1045L1921.69 1049.52ZM2053.7 1045L2041.74 1040.41L2044.13 1045L2041.74 1049.59ZM1458.45 1104.8L1446.49 1100.21L1448.88 1104.8L1446.49 1109.39ZM1577.5 1104.8L1565.54 1100.21L1567.93 1104.8L1565.54 1109.39ZM1698.55 1104.8L1686.26 1100.08L1688.72 1104.8L1686.26 1109.52ZM1816 1104.8L1803.97 1100.18L1806.38 1104.8L1803.97 1109.42ZM1931.45 1104.8L1920.02 1100.41L1922.3 1104.8L1920.02 1109.19ZM2051.7 1104.8L2040.07 1100.33L2042.39 1104.8L2040.07 1109.27ZM1454.05 1164.6L1442.81 1160.29L1445.06 1164.6L1442.81 1168.91ZM1573.1 1164.6L1561.86 1160.29L1564.11 1164.6L1561.86 1168.91ZM1695.75 1164.6L1683.92 1160.06L1686.29 1164.6L1683.92 1169.14ZM1813.2 1164.6L1801.63 1160.16L1803.95 1164.6L1801.63 1169.04ZM1929.45 1164.6L1918.35 1160.34L1920.57 1164.6L1918.35 1168.86ZM2047.3 1164.6L2036.39 1160.41L2038.57 1164.6L2036.39 1168.79ZM1451.25 1224.4L1440.48 1220.26L1442.63 1224.4L1440.48 1228.54ZM1570.3 1224.4L1559.53 1220.26L1561.68 1224.4L1559.53 1228.54ZM1693.75 1224.4L1682.25 1219.99L1684.55 1224.4L1682.25 1228.81ZM1811.2 1224.4L1799.96 1220.09L1802.21 1224.4L1799.96 1228.71ZM1922.65 1224.4L1912.67 1220.57L1914.66 1224.4L1912.67 1228.23ZM2042.5 1224.4L2032.39 1220.52L2034.41 1224.4L2032.39 1228.28ZM1447.25 1284.2L1437.14 1280.32L1439.16 1284.2L1437.14 1288.08ZM1566.3 1284.2L1556.19 1280.32L1558.21 1284.2L1556.19 1288.08ZM1689.35 1284.2L1678.58 1280.06L1680.73 1284.2L1678.58 1288.34ZM1808.4 1284.2L1797.63 1280.06L1799.78 1284.2L1797.63 1288.34ZM1920.65 1284.2L1911 1280.49L1912.93 1284.2L1911 1287.91ZM2040.5 1284.2L2030.72 1280.44L2032.67 1284.2L2030.72 1287.96ZM1444.45 1344.29L1434.83 1340.49L1436.73 1344.22L1434.76 1347.9ZM1563.5 1344.29L1553.88 1340.49L1555.78 1344.22L1553.81 1347.9ZM1684.55 1344.3L1674.61 1340.37L1676.56 1344.22L1674.53 1348.03ZM1799.2 1344.28L1789.98 1340.63L1791.79 1344.21L1789.91 1347.74ZM1913.45 1344.26L1905.02 1340.92L1906.68 1344.19L1904.95 1347.42ZM2029.3 1344.24L2021.39 1341.11L2022.95 1344.18L2021.33 1347.21ZM1433.25 1404.04L1425.48 1400.96L1427.01 1403.97L1425.42 1406.95ZM1552.3 1404.04L1544.53 1400.96L1546.06 1403.97L1544.47 1406.95ZM1673.35 1404.05L1665.25 1400.84L1666.84 1403.98L1665.18 1407.09ZM1793.2 1404.05L1784.97 1400.79L1786.59 1403.98L1784.9 1407.14ZM1901.35 1404L1894.91 1401.45L1896.18 1403.94L1894.86 1406.41ZM2017.6 1403.98L2011.62 1401.62L2012.8 1403.93L2011.57 1406.23ZM1410.35 1462.5L1406.18 1461.32L1407.13 1462.79L1406.46 1464.41ZM1529.4 1462.5L1525.23 1461.32L1526.18 1462.79L1525.51 1464.41ZM1654.45 1462.23L1649.26 1460.76L1650.44 1462.59L1649.61 1464.61ZM1775.1 1462.16L1769.64 1460.61L1770.88 1462.54L1770 1464.66ZM1892.55 1462.23L1887.36 1460.76L1888.54 1462.59L1887.71 1464.61ZM2010.4 1462.29L2005.42 1460.87L2006.55 1462.63L2005.75 1464.57Z" fill="#000" fill-opacity="0.7"/></g></g>
<path d="M1483.2 490.3H1504.2M1483.2 609.1H1504.2M1483.2 668.5H1504.2M1483.2 727.9H1504.2M1483.2 846.7H1504.2M1483.2 906.1H1504.2M1483.2 965.5H1504.2M1483.2 1084.3H1504.2M1483.2 1143.7H1504.2M1483.2 1203.1H1504.2M1483.2 1321.9H1504.2M1483.2 1381.3H1504.2M1483.2 1440.7H1504.2M1544.1 1458.6V1481.3M1603.1 1458.6V1481.3M1664.4 1458.6V1481.3M1783 1458.6V1481.3M1842.4 1458.6V1481.3M1902 1458.6V1481.3M2020 1458.6V1481.3" fill="none" stroke="#000" stroke-width="1.6"/>
<path d="M2080.6 1458.6V1481.3" fill="none" stroke="#5a5a5a" stroke-width="2"/>
<path d="M1483.2 549.5H1519.7M1483.2 787H1519.7M1483.2 1025.2H1519.7M1483.2 1262.8H1519.7" fill="none" stroke="#000" stroke-width="7.6"/>
<path d="M1484.5 1443V1481.3M1723.4 1443V1481.3M1960.3 1443V1481.3" fill="none" stroke="#000" stroke-width="7.4"/>
<rect x="1475.6" y="465.3" width="8.6" height="1023" fill="#000"/>
<rect x="1475.6" y="1480.3" width="659.4" height="8" fill="#000"/>
<text x="1456.3" y="572.1" font-family="'Liberation Sans', Arial, Helvetica, sans-serif" font-size="66" stroke="#fff" stroke-width="0.5" text-anchor="end">80</text>
<text x="1456.3" y="809.6" font-family="'Liberation Sans', Arial, Helvetica, sans-serif" font-size="66" stroke="#fff" stroke-width="0.5" text-anchor="end">60</text>
<text x="1456.3" y="1047.8" font-family="'Liberation Sans', Arial, Helvetica, sans-serif" font-size="66" stroke="#fff" stroke-width="0.5" text-anchor="end">40</text>
<text x="1456.3" y="1285.4" font-family="'Liberation Sans', Arial, Helvetica, sans-serif" font-size="66" stroke="#fff" stroke-width="0.5" text-anchor="end">20</text>
<text x="1484.8" y="1548" font-family="'Liberation Sans', Arial, Helvetica, sans-serif" font-size="64.5" stroke="#fff" stroke-width="0.5" text-anchor="middle">0</text>
<text x="1720.5" y="1548" font-family="'Liberation Sans', Arial, Helvetica, sans-serif" font-size="64.5" stroke="#fff" stroke-width="0.5" text-anchor="middle">20</text>
<text x="1960" y="1548" font-family="'Liberation Sans', Arial, Helvetica, sans-serif" font-size="64.5" stroke="#fff" stroke-width="0.5" text-anchor="middle">40</text>
<text x="1835" y="1621.5" font-family="'Liberation Sans', Arial, Helvetica, sans-serif" font-weight="700" font-size="76" text-anchor="middle">x[mm]</text>
<text transform="translate(1335 651.6) rotate(-90)" font-family="'Liberation Sans', Arial, Helvetica, sans-serif" font-weight="700" font-size="76" text-anchor="middle">y[mm]</text>
</g>
<g id="panel-d">
<rect x="1479.4" y="2232" width="585" height="1015.4" fill="url(#f1_0)"/>
<rect x="1482.4" y="2232" width="582" height="1015.4" fill="url(#f1_1)" mask="url(#m1_1)"/>
<rect x="1530.9" y="2232" width="533.5" height="1015.4" fill="url(#f1_2)" mask="url(#m1_2)"/>
<rect x="1579.4" y="2232" width="485" height="1015.4" fill="url(#f1_3)" mask="url(#m1_3)"/>
<rect x="1627.9" y="2232" width="436.5" height="1015.4" fill="url(#f1_4)" mask="url(#m1_4)"/>
<rect x="1676.4" y="2232" width="388" height="1015.4" fill="url(#f1_5)" mask="url(#m1_5)"/>
<rect x="1724.9" y="2232" width="339.5" height="1015.4" fill="url(#f1_6)" mask="url(#m1_6)"/>
<rect x="1773.4" y="2232" width="291" height="1015.4" fill="url(#f1_7)" mask="url(#m1_7)"/>
<rect x="1821.9" y="2232" width="242.5" height="1015.4" fill="url(#f1_8)" mask="url(#m1_8)"/>
<rect x="1870.4" y="2232" width="194" height="1015.4" fill="url(#f1_9)" mask="url(#m1_9)"/>
<rect x="1918.9" y="2232" width="145.5" height="1015.4" fill="url(#f1_10)" mask="url(#m1_10)"/>
<rect x="1967.4" y="2232" width="97" height="1015.4" fill="url(#f1_11)" mask="url(#m1_11)"/>
<rect x="2015.9" y="2232" width="48.5" height="1015.4" fill="url(#f1_12)" mask="url(#m1_12)"/>
<g clip-path="url(#clipf1)"><g><path d="M1385 2283.84L1487.5 2280.76M1470.39 2274.78L1487.5 2280.76L1470.78 2287.76M1502.9 2283.84L1605.4 2280.76M1588.29 2274.78L1605.4 2280.76L1588.68 2287.76M1620.8 2283.83L1722.9 2280.77M1705.86 2274.81L1722.9 2280.77L1706.25 2287.74M1738.7 2283.82L1840 2280.78M1823.09 2274.87L1840 2280.78L1823.48 2287.7M1856.6 2283.81L1957.1 2280.79M1940.33 2274.92L1957.1 2280.79L1940.71 2287.66M1974.5 2283.73L2069.8 2280.87M2053.89 2275.31L2069.8 2280.87L2054.26 2287.38M1385 2342.99L1487.5 2339.91M1470.39 2333.93L1487.5 2339.91L1470.78 2346.91M1502.9 2342.99L1605.4 2339.91M1588.29 2333.93L1605.4 2339.91L1588.68 2346.91M1620.8 2342.98L1722.9 2339.92M1705.86 2333.96L1722.9 2339.92L1706.25 2346.89M1738.7 2343L1842 2339.9M1824.76 2333.87L1842 2339.9L1825.15 2346.95M1856.6 2342.93L1955.1 2339.97M1938.66 2334.22L1955.1 2339.97L1939.03 2346.7M1974.5 2342.94L2073.8 2339.96M2057.23 2334.16L2073.8 2339.96L2057.6 2346.74M1385 2402.14L1487.5 2399.06M1470.39 2393.08L1487.5 2399.06L1470.78 2406.06M1502.9 2402.14L1605.4 2399.06M1588.29 2393.08L1605.4 2399.06L1588.68 2406.06M1620.8 2402.13L1722.9 2399.07M1705.86 2393.11L1722.9 2399.07L1706.25 2406.04M1738.7 2402.12L1840 2399.08M1823.09 2393.17L1840 2399.08L1823.48 2406M1856.6 2402.08L1955.1 2399.12M1938.66 2393.37L1955.1 2399.12L1939.03 2405.85M1974.5 2402.12L2075.8 2399.08M2058.89 2393.17L2075.8 2399.08L2059.28 2406M1385 2461.25L1485.1 2458.25M1468.39 2452.4L1485.1 2458.25L1468.77 2465.08M1502.9 2461.25L1603 2458.25M1586.29 2452.4L1603 2458.25L1586.67 2465.08M1620.8 2461.25L1720.9 2458.25M1704.19 2452.4L1720.9 2458.25L1704.57 2465.08M1738.7 2461.24L1838 2458.26M1821.43 2452.46L1838 2458.26L1821.8 2465.04M1856.6 2461.2L1953.1 2458.3M1936.99 2452.67L1953.1 2458.3L1937.36 2464.89M1974.5 2461.21L2071.8 2458.29M2055.56 2452.61L2071.8 2458.29L2055.93 2464.93M1385 2520.37L1483.1 2517.43M1466.73 2511.7L1483.1 2517.43L1467.1 2524.13M1502.9 2520.37L1601 2517.43M1584.63 2511.7L1601 2517.43L1585 2524.13M1620.8 2520.4L1720.9 2517.4M1704.19 2511.55L1720.9 2517.4L1704.57 2524.23M1738.7 2520.36L1836 2517.44M1819.76 2511.76L1836 2517.44L1820.13 2524.08M1856.6 2520.35L1953.1 2517.45M1936.99 2511.82L1953.1 2517.45L1937.36 2524.04M1974.5 2520.36L2071.8 2517.44M2055.56 2511.76L2071.8 2517.44L2055.93 2524.08M1385 2579.52L1483.1 2576.58M1466.73 2570.85L1483.1 2576.58L1467.1 2583.28M1502.9 2579.52L1601 2576.58M1584.63 2570.85L1601 2576.58L1585 2583.28M1620.8 2579.49L1716.9 2576.61M1700.86 2571L1716.9 2576.61L1701.23 2583.17M1738.7 2579.51L1836 2576.59M1819.76 2570.91L1836 2576.59L1820.13 2583.23M1856.6 2579.5L1953.1 2576.6M1936.99 2570.97L1953.1 2576.6L1937.36 2583.19M1974.5 2579.51L2071.8 2576.59M2055.56 2570.91L2071.8 2576.59L2055.93 2583.23M1385 2638.64L1481.1 2635.76M1465.06 2630.15L1481.1 2635.76L1465.43 2642.32M1502.9 2638.64L1599 2635.76M1582.96 2630.15L1599 2635.76L1583.33 2642.32M1620.8 2638.64L1716.9 2635.76M1700.86 2630.15L1716.9 2635.76L1701.23 2642.32M1738.7 2638.63L1834 2635.77M1818.09 2630.21L1834 2635.77L1818.46 2642.28M1856.6 2638.62L1951.1 2635.78M1935.33 2630.26L1951.1 2635.78L1935.69 2642.24M1974.5 2638.62L2069.4 2635.78M2053.56 2630.24L2069.4 2635.78L2053.92 2642.26M1385 2697.75L1478.3 2694.95M1462.73 2689.5L1478.3 2694.95L1463.08 2701.32M1502.9 2697.75L1596.2 2694.95M1580.63 2689.5L1596.2 2694.95L1580.98 2701.32M1620.8 2697.75L1714.1 2694.95M1698.53 2689.5L1714.1 2694.95L1698.88 2701.32M1738.7 2697.78L1834 2694.92M1818.09 2689.36L1834 2694.92L1818.46 2701.43M1856.6 2697.77L1951.1 2694.93M1935.33 2689.41L1951.1 2694.93L1935.69 2701.39M1974.5 2697.77L2069.4 2694.93M2053.56 2689.39L2069.4 2694.93L2053.92 2701.41M1385 2755.5L1474.3 2755.5M1459.57 2749.84L1474.3 2755.5L1459.57 2761.16M1502.9 2755.5L1592.2 2755.5M1577.47 2749.84L1592.2 2755.5L1577.47 2761.16M1620.8 2755.5L1712.1 2755.5M1697.04 2749.72L1712.1 2755.5L1697.04 2761.28M1738.7 2755.5L1827.2 2755.5M1812.6 2749.89L1827.2 2755.5L1812.6 2761.11M1856.6 2755.5L1945.9 2755.5M1931.17 2749.84L1945.9 2755.5L1931.17 2761.16M1974.5 2755.5L2064.6 2755.5M2049.73 2749.79L2064.6 2755.5L2049.73 2761.21M1385 2814.65L1475.5 2814.65M1460.57 2808.92L1475.5 2814.65L1460.57 2820.38M1502.9 2814.65L1593.4 2814.65M1578.47 2808.92L1593.4 2814.65L1578.47 2820.38M1620.8 2814.65L1709.7 2814.65M1695.03 2809.02L1709.7 2814.65L1695.03 2820.28M1738.7 2814.65L1829.2 2814.65M1814.27 2808.92L1829.2 2814.65L1814.27 2820.38M1856.6 2814.65L1945.9 2814.65M1931.17 2808.99L1945.9 2814.65L1931.17 2820.31M1974.5 2814.65L2064.6 2814.65M2049.73 2808.94L2064.6 2814.65L2049.73 2820.36M1385 2873.8L1471.5 2873.8M1457.23 2868.32L1471.5 2873.8L1457.23 2879.28M1502.9 2873.8L1589.4 2873.8M1575.13 2868.32L1589.4 2873.8L1575.13 2879.28M1620.8 2873.8L1709.7 2873.8M1695.03 2868.17L1709.7 2873.8L1695.03 2879.43M1738.7 2873.8L1828 2873.8M1813.27 2868.14L1828 2873.8L1813.27 2879.46M1856.6 2873.8L1941.9 2873.8M1927.83 2868.4L1941.9 2873.8L1927.83 2879.2M1974.5 2873.8L2059.8 2873.8M2045.73 2868.4L2059.8 2873.8L2045.73 2879.2M1385 2932.95L1469.5 2932.95M1455.56 2927.6L1469.5 2932.95L1455.56 2938.3M1502.9 2932.95L1587.4 2932.95M1573.46 2927.6L1587.4 2932.95L1573.46 2938.3M1620.8 2932.95L1704.9 2932.95M1691.02 2927.62L1704.9 2932.95L1691.02 2938.28M1738.7 2932.95L1824.8 2932.95M1810.59 2927.5L1824.8 2932.95L1810.59 2938.4M1856.6 2932.95L1939.9 2932.95M1926.16 2927.67L1939.9 2932.95L1926.16 2938.23M1974.5 2932.95L2057.8 2932.95M2044.06 2927.67L2057.8 2932.95L2044.06 2938.23M1385 2992.1L1462.3 2992.1M1449.55 2987.2L1462.3 2992.1L1449.55 2997M1502.9 2992.1L1580.2 2992.1M1567.45 2987.2L1580.2 2992.1L1567.45 2997M1620.8 2992.1L1700.9 2992.1M1687.68 2987.03L1700.9 2992.1L1687.68 2997.17M1738.7 2992.1L1820 2992.1M1806.59 2986.95L1820 2992.1L1806.59 2997.25M1856.6 2992.1L1937.1 2992.1M1923.82 2987L1937.1 2992.1L1923.82 2997.2M1974.5 2992.1L2050.6 2992.1M2038.04 2987.28L2050.6 2992.1L2038.04 2996.92M1385 3051.25L1458.3 3051.25M1446.21 3046.61L1458.3 3051.25L1446.21 3055.89M1502.9 3051.25L1576.2 3051.25M1564.11 3046.61L1576.2 3051.25L1564.11 3055.89M1620.8 3051.25L1696.1 3051.25M1683.68 3046.48L1696.1 3051.25L1683.68 3056.02M1738.7 3051.25L1813.2 3051.25M1800.91 3046.53L1813.2 3051.25L1800.91 3055.97M1856.6 3051.25L1929.9 3051.25M1917.81 3046.61L1929.9 3051.25L1917.81 3055.89M1974.5 3051.25L2048.6 3051.25M2036.37 3046.56L2048.6 3051.25L2036.37 3055.94M1385 3110.05L1455.5 3110.75M1443.91 3106.17L1455.5 3110.75L1443.82 3115.1M1502.9 3110.05L1573.4 3110.75M1561.81 3106.17L1573.4 3110.75L1561.72 3115.1M1620.8 3110.04L1693.7 3110.76M1681.72 3106.03L1693.7 3110.76L1681.63 3115.26M1738.7 3110.04L1810.8 3110.76M1798.95 3106.07L1810.8 3110.76L1798.86 3115.21M1856.6 3110.09L1919.1 3110.71M1908.83 3106.65L1919.1 3110.71L1908.75 3114.57M1974.5 3110.06L2041.8 3110.74M2030.74 3106.36L2041.8 3110.74L2030.65 3114.89M1385 3169.26L1442.3 3169.84M1432.88 3166.11L1442.3 3169.84L1432.81 3173.37M1502.9 3169.26L1560.2 3169.84M1550.78 3166.11L1560.2 3169.84L1550.71 3173.37M1620.8 3169.24L1682.9 3169.86M1672.69 3165.82L1682.9 3169.86L1672.61 3173.69M1738.7 3169.22L1805.2 3169.88M1794.27 3165.56L1805.2 3169.88L1794.19 3173.98M1856.6 3169.27L1912.7 3169.83M1903.48 3166.18L1912.7 3169.83L1903.41 3173.29M1974.5 3169.28L2028.6 3169.82M2019.71 3166.3L2028.6 3169.82L2019.64 3173.16M1385 3229.11L1412.2 3228.29M1407.66 3226.7L1412.2 3228.29L1407.76 3230.15M1502.9 3229.11L1530.1 3228.29M1525.56 3226.7L1530.1 3228.29L1525.66 3230.15M1620.8 3229.3L1660.8 3228.1M1654.12 3225.76L1660.8 3228.1L1654.28 3230.83M1738.7 3229.29L1777.9 3228.11M1771.36 3225.82L1777.9 3228.11L1771.51 3230.79M1856.6 3229.32L1897.8 3228.08M1890.92 3225.68L1897.8 3228.08L1891.08 3230.9M1974.5 3229.24L2010.5 3228.16M2004.49 3226.06L2010.5 3228.16L2004.63 3230.62" fill="none" stroke="#000" stroke-width="2.3" stroke-linejoin="round"/><path d="M1487.5 2280.76L1470.39 2274.78L1473.97 2281.17L1470.78 2287.76ZM1605.4 2280.76L1588.29 2274.78L1591.87 2281.17L1588.68 2287.76ZM1722.9 2280.77L1705.86 2274.81L1709.42 2281.17L1706.25 2287.74ZM1840 2280.78L1823.09 2274.87L1826.63 2281.18L1823.48 2287.7ZM1957.1 2280.79L1940.33 2274.92L1943.83 2281.19L1940.71 2287.66ZM2069.8 2280.87L2053.89 2275.31L2057.22 2281.25L2054.26 2287.38ZM1487.5 2339.91L1470.39 2333.93L1473.97 2340.32L1470.78 2346.91ZM1605.4 2339.91L1588.29 2333.93L1591.87 2340.32L1588.68 2346.91ZM1722.9 2339.92L1705.86 2333.96L1709.42 2340.32L1706.25 2346.89ZM1842 2339.9L1824.76 2333.87L1828.36 2340.31L1825.15 2346.95ZM1955.1 2339.97L1938.66 2334.22L1942.1 2340.36L1939.03 2346.7ZM2073.8 2339.96L2057.23 2334.16L2060.69 2340.35L2057.6 2346.74ZM1487.5 2399.06L1470.39 2393.08L1473.97 2399.47L1470.78 2406.06ZM1605.4 2399.06L1588.29 2393.08L1591.87 2399.47L1588.68 2406.06ZM1722.9 2399.07L1705.86 2393.11L1709.42 2399.47L1706.25 2406.04ZM1840 2399.08L1823.09 2393.17L1826.63 2399.48L1823.48 2406ZM1955.1 2399.12L1938.66 2393.37L1942.1 2399.51L1939.03 2405.85ZM2075.8 2399.08L2058.89 2393.17L2062.43 2399.48L2059.28 2406ZM1485.1 2458.25L1468.39 2452.4L1471.89 2458.64L1468.77 2465.08ZM1603 2458.25L1586.29 2452.4L1589.79 2458.64L1586.67 2465.08ZM1720.9 2458.25L1704.19 2452.4L1707.69 2458.64L1704.57 2465.08ZM1838 2458.26L1821.43 2452.46L1824.89 2458.65L1821.8 2465.04ZM1953.1 2458.3L1936.99 2452.67L1940.36 2458.68L1937.36 2464.89ZM2071.8 2458.29L2055.56 2452.61L2058.96 2458.68L2055.93 2464.93ZM1483.1 2517.43L1466.73 2511.7L1470.15 2517.82L1467.1 2524.13ZM1601 2517.43L1584.63 2511.7L1588.05 2517.82L1585 2524.13ZM1720.9 2517.4L1704.19 2511.55L1707.69 2517.79L1704.57 2524.23ZM1836 2517.44L1819.76 2511.76L1823.16 2517.83L1820.13 2524.08ZM1953.1 2517.45L1936.99 2511.82L1940.36 2517.83L1937.36 2524.04ZM2071.8 2517.44L2055.56 2511.76L2058.96 2517.83L2055.93 2524.08ZM1483.1 2576.58L1466.73 2570.85L1470.15 2576.97L1467.1 2583.28ZM1601 2576.58L1584.63 2570.85L1588.05 2576.97L1585 2583.28ZM1716.9 2576.61L1700.86 2571L1704.21 2576.99L1701.23 2583.17ZM1836 2576.59L1819.76 2570.91L1823.16 2576.98L1820.13 2583.23ZM1953.1 2576.6L1936.99 2570.97L1940.36 2576.98L1937.36 2583.19ZM2071.8 2576.59L2055.56 2570.91L2058.96 2576.98L2055.93 2583.23ZM1481.1 2635.76L1465.06 2630.15L1468.41 2636.14L1465.43 2642.32ZM1599 2635.76L1582.96 2630.15L1586.31 2636.14L1583.33 2642.32ZM1716.9 2635.76L1700.86 2630.15L1704.21 2636.14L1701.23 2642.32ZM1834 2635.77L1818.09 2630.21L1821.42 2636.15L1818.46 2642.28ZM1951.1 2635.78L1935.33 2630.26L1938.63 2636.16L1935.69 2642.24ZM2069.4 2635.78L2053.56 2630.24L2056.87 2636.15L2053.92 2642.26ZM1478.3 2694.95L1462.73 2689.5L1465.98 2695.32L1463.08 2701.32ZM1596.2 2694.95L1580.63 2689.5L1583.88 2695.32L1580.98 2701.32ZM1714.1 2694.95L1698.53 2689.5L1701.78 2695.32L1698.88 2701.32ZM1834 2694.92L1818.09 2689.36L1821.42 2695.3L1818.46 2701.43ZM1951.1 2694.93L1935.33 2689.41L1938.63 2695.31L1935.69 2701.39ZM2069.4 2694.93L2053.56 2689.39L2056.87 2695.3L2053.92 2701.41ZM1474.3 2755.5L1459.57 2749.84L1462.51 2755.5L1459.57 2761.16ZM1592.2 2755.5L1577.47 2749.84L1580.41 2755.5L1577.47 2761.16ZM1712.1 2755.5L1697.04 2749.72L1700.05 2755.5L1697.04 2761.28ZM1827.2 2755.5L1812.6 2749.89L1815.52 2755.5L1812.6 2761.11ZM1945.9 2755.5L1931.17 2749.84L1934.11 2755.5L1931.17 2761.16ZM2064.6 2755.5L2049.73 2749.79L2052.71 2755.5L2049.73 2761.21ZM1475.5 2814.65L1460.57 2808.92L1463.55 2814.65L1460.57 2820.38ZM1593.4 2814.65L1578.47 2808.92L1581.45 2814.65L1578.47 2820.38ZM1709.7 2814.65L1695.03 2809.02L1697.97 2814.65L1695.03 2820.28ZM1829.2 2814.65L1814.27 2808.92L1817.25 2814.65L1814.27 2820.38ZM1945.9 2814.65L1931.17 2808.99L1934.11 2814.65L1931.17 2820.31ZM2064.6 2814.65L2049.73 2808.94L2052.71 2814.65L2049.73 2820.36ZM1471.5 2873.8L1457.23 2868.32L1460.08 2873.8L1457.23 2879.28ZM1589.4 2873.8L1575.13 2868.32L1577.98 2873.8L1575.13 2879.28ZM1709.7 2873.8L1695.03 2868.17L1697.97 2873.8L1695.03 2879.43ZM1828 2873.8L1813.27 2868.14L1816.21 2873.8L1813.27 2879.46ZM1941.9 2873.8L1927.83 2868.4L1930.64 2873.8L1927.83 2879.2ZM2059.8 2873.8L2045.73 2868.4L2048.54 2873.8L2045.73 2879.2ZM1469.5 2932.95L1455.56 2927.6L1458.35 2932.95L1455.56 2938.3ZM1587.4 2932.95L1573.46 2927.6L1576.25 2932.95L1573.46 2938.3ZM1704.9 2932.95L1691.02 2927.62L1693.8 2932.95L1691.02 2938.28ZM1824.8 2932.95L1810.59 2927.5L1813.43 2932.95L1810.59 2938.4ZM1939.9 2932.95L1926.16 2927.67L1928.9 2932.95L1926.16 2938.23ZM2057.8 2932.95L2044.06 2927.67L2046.8 2932.95L2044.06 2938.23ZM1462.3 2992.1L1449.55 2987.2L1452.1 2992.1L1449.55 2997ZM1580.2 2992.1L1567.45 2987.2L1570 2992.1L1567.45 2997ZM1700.9 2992.1L1687.68 2987.03L1690.33 2992.1L1687.68 2997.17ZM1820 2992.1L1806.59 2986.95L1809.27 2992.1L1806.59 2997.25ZM1937.1 2992.1L1923.82 2987L1926.47 2992.1L1923.82 2997.2ZM2050.6 2992.1L2038.04 2987.28L2040.55 2992.1L2038.04 2996.92ZM1458.3 3051.25L1446.21 3046.61L1448.62 3051.25L1446.21 3055.89ZM1576.2 3051.25L1564.11 3046.61L1566.52 3051.25L1564.11 3055.89ZM1696.1 3051.25L1683.68 3046.48L1686.16 3051.25L1683.68 3056.02ZM1813.2 3051.25L1800.91 3046.53L1803.37 3051.25L1800.91 3055.97ZM1929.9 3051.25L1917.81 3046.61L1920.22 3051.25L1917.81 3055.89ZM2048.6 3051.25L2036.37 3046.56L2038.82 3051.25L2036.37 3055.94ZM1455.5 3110.75L1443.91 3106.17L1446.19 3110.66L1443.82 3115.1ZM1573.4 3110.75L1561.81 3106.17L1564.09 3110.66L1561.72 3115.1ZM1693.7 3110.76L1681.72 3106.03L1684.08 3110.67L1681.63 3115.26ZM1810.8 3110.76L1798.95 3106.07L1801.28 3110.67L1798.86 3115.21ZM1919.1 3110.71L1908.83 3106.65L1910.85 3110.63L1908.75 3114.57ZM2041.8 3110.74L2030.74 3106.36L2032.92 3110.65L2030.65 3114.89ZM1442.3 3169.84L1432.88 3166.11L1434.74 3169.76L1432.81 3173.37ZM1560.2 3169.84L1550.78 3166.11L1552.64 3169.76L1550.71 3173.37ZM1682.9 3169.86L1672.69 3165.82L1674.7 3169.78L1672.61 3173.69ZM1805.2 3169.88L1794.27 3165.56L1796.42 3169.79L1794.19 3173.98ZM1912.7 3169.83L1903.48 3166.18L1905.29 3169.76L1903.41 3173.29ZM2028.6 3169.82L2019.71 3166.3L2021.46 3169.75L2019.64 3173.16ZM1412.2 3228.29L1407.66 3226.7L1408.61 3228.4L1407.76 3230.15ZM1530.1 3228.29L1525.56 3226.7L1526.51 3228.4L1525.66 3230.15ZM1660.8 3228.1L1654.12 3225.76L1655.52 3228.26L1654.28 3230.83ZM1777.9 3228.11L1771.36 3225.82L1772.73 3228.27L1771.51 3230.79ZM1897.8 3228.08L1890.92 3225.68L1892.36 3228.25L1891.08 3230.9ZM2010.5 3228.16L2004.49 3226.06L2005.75 3228.3L2004.63 3230.62Z" fill="#000" fill-opacity="0.4"/></g></g>
<path d="M1481.8 2265.85H1502.8M1481.8 2383.55H1502.8M1481.8 2442.4H1502.8M1481.8 2501.25H1502.8M1481.8 2618.95H1502.8M1481.8 2677.8H1502.8M1481.8 2736.65H1502.8M1481.8 2854.35H1502.8M1481.8 2913.2H1502.8M1481.8 2972.05H1502.8M1481.8 3089.75H1502.8M1481.8 3148.6H1502.8M1481.8 3207.45H1502.8M1541.4 3225.2V3246.4M1600.4 3225.2V3246.4M1660.7 3225.2V3246.4M1778.4 3225.2V3246.4M1837.3 3225.2V3246.4M1896 3225.2V3246.4M2013.2 3225.2V3246.4" fill="none" stroke="#000" stroke-width="1.6"/>
<path d="M2072.2 3225.2V3246.4" fill="none" stroke="#5a5a5a" stroke-width="2"/>
<path d="M1481.8 2324.7H1518.3M1481.8 2559.9H1518.3M1481.8 2796H1518.3M1481.8 3030.7H1518.3" fill="none" stroke="#000" stroke-width="7.6"/>
<path d="M1483 3208.4V3246.4M1719 3208.4V3246.4M1953.6 3208.4V3246.4" fill="none" stroke="#000" stroke-width="7.4"/>
<rect x="1474.6" y="2232" width="8.2" height="1021.3" fill="#000"/>
<rect x="1474.6" y="3245.4" width="607.7" height="7.9" fill="#000"/>
<text x="1456.3" y="2347.3" font-family="'Liberation Sans', Arial, Helvetica, sans-serif" font-size="66" stroke="#fff" stroke-width="0.5" text-anchor="end">80</text>
<text x="1456.3" y="2582.5" font-family="'Liberation Sans', Arial, Helvetica, sans-serif" font-size="66" stroke="#fff" stroke-width="0.5" text-anchor="end">60</text>
<text x="1456.3" y="2818.6" font-family="'Liberation Sans', Arial, Helvetica, sans-serif" font-size="66" stroke="#fff" stroke-width="0.5" text-anchor="end">40</text>
<text x="1456.3" y="3053.3" font-family="'Liberation Sans', Arial, Helvetica, sans-serif" font-size="66" stroke="#fff" stroke-width="0.5" text-anchor="end">20</text>
<text x="1483.2" y="3313" font-family="'Liberation Sans', Arial, Helvetica, sans-serif" font-size="64.5" stroke="#fff" stroke-width="0.5" text-anchor="middle">0</text>
<text x="1716.5" y="3313" font-family="'Liberation Sans', Arial, Helvetica, sans-serif" font-size="64.5" stroke="#fff" stroke-width="0.5" text-anchor="middle">20</text>
<text x="1954.2" y="3313" font-family="'Liberation Sans', Arial, Helvetica, sans-serif" font-size="64.5" stroke="#fff" stroke-width="0.5" text-anchor="middle">40</text>
<text x="1835" y="3387.5" font-family="'Liberation Sans', Arial, Helvetica, sans-serif" font-weight="700" font-size="76" text-anchor="middle">x[mm]</text>
<text transform="translate(1335 2417.6) rotate(-90)" font-family="'Liberation Sans', Arial, Helvetica, sans-serif" font-weight="700" font-size="76" text-anchor="middle">y[mm]</text>
</g>
</g>
<g id="captions">
<text x="119.5" y="1754" font-family="'Liberation Serif', 'Times New Roman', serif" font-size="86" text-anchor="middle" textLength="95.2" lengthAdjust="spacing">(<tspan font-weight="700">a</tspan>)</text>
<text x="1854.7" y="1754" font-family="'Liberation Serif', 'Times New Roman', serif" font-size="86" text-anchor="middle">(<tspan font-weight="700">b</tspan>)</text>
<text x="119.6" y="3519" font-family="'Liberation Serif', 'Times New Roman', serif" font-size="86" text-anchor="middle" textLength="91.8" lengthAdjust="spacing">(<tspan font-weight="700">c</tspan>)</text>
<text x="1854.7" y="3519" font-family="'Liberation Serif', 'Times New Roman', serif" font-size="86" text-anchor="middle">(<tspan font-weight="700">d</tspan>)</text>
</g>
</svg>
</body></html>
